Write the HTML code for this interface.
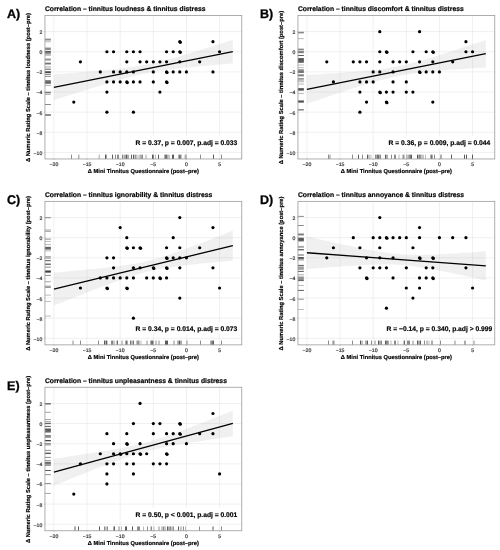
<!DOCTYPE html>
<html><head><meta charset="utf-8"><title>Correlation plots</title>
<style>
html,body{margin:0;padding:0;background:#fff;}
body{width:500px;height:550px;overflow:hidden;}
svg{display:block;font-family:'Liberation Sans', Arial, Helvetica, sans-serif;text-rendering:geometricPrecision;}
.tk{font-size:5.15px;fill:#4D4D4D;}
.tt{font-size:6.78px;font-weight:bold;fill:#000;}
.lb{font-size:12.5px;font-weight:bold;fill:#000;}
.yt{font-size:5.78px;font-weight:bold;fill:#000;}
.xt{font-size:5.75px;font-weight:bold;fill:#000;}
.rt{font-size:6.72px;font-weight:bold;fill:#000;}
.tk{fill:#333;stroke:#333;stroke-width:0.18px;}
.tt,.yt,.xt,.rt{stroke:#000;stroke-width:0.18px;}
.lb{stroke:#000;stroke-width:0.3px;}

</style></head><body>
<svg width="500" height="550" viewBox="0 0 500 550">
<rect width="500" height="550" fill="#fff"/>
<rect x="44.95" y="15.03" width="196.82" height="143.94" fill="#fff"/>
<line x1="53.9" y1="15.03" x2="53.9" y2="158.97" stroke="#E6E6E6" stroke-width="0.6"/>
<line x1="87.03" y1="15.03" x2="87.03" y2="158.97" stroke="#E6E6E6" stroke-width="0.6"/>
<line x1="120.17" y1="15.03" x2="120.17" y2="158.97" stroke="#E6E6E6" stroke-width="0.6"/>
<line x1="153.31" y1="15.03" x2="153.31" y2="158.97" stroke="#E6E6E6" stroke-width="0.6"/>
<line x1="186.44" y1="15.03" x2="186.44" y2="158.97" stroke="#E6E6E6" stroke-width="0.6"/>
<line x1="219.57" y1="15.03" x2="219.57" y2="158.97" stroke="#E6E6E6" stroke-width="0.6"/>
<line x1="44.95" y1="31.64" x2="241.78" y2="31.64" stroke="#E6E6E6" stroke-width="0.6"/>
<line x1="44.95" y1="51.77" x2="241.78" y2="51.77" stroke="#E6E6E6" stroke-width="0.6"/>
<line x1="44.95" y1="71.9" x2="241.78" y2="71.9" stroke="#E6E6E6" stroke-width="0.6"/>
<line x1="44.95" y1="92.03" x2="241.78" y2="92.03" stroke="#E6E6E6" stroke-width="0.6"/>
<line x1="44.95" y1="112.17" x2="241.78" y2="112.17" stroke="#E6E6E6" stroke-width="0.6"/>
<line x1="44.95" y1="132.3" x2="241.78" y2="132.3" stroke="#E6E6E6" stroke-width="0.6"/>
<line x1="44.95" y1="152.43" x2="241.78" y2="152.43" stroke="#E6E6E6" stroke-width="0.6"/>
<polygon points="53.9,74.46 58.37,74.11 62.85,73.76 67.32,73.4 71.79,73.04 76.27,72.68 80.74,72.31 85.21,71.93 89.69,71.54 94.16,71.14 98.63,70.74 103.11,70.31 107.58,69.88 112.05,69.42 116.53,68.93 121,68.42 125.47,67.87 129.94,67.27 134.42,66.62 138.89,65.91 143.36,65.13 147.84,64.27 152.31,63.34 156.78,62.33 161.26,61.26 165.73,60.12 170.2,58.93 174.68,57.69 179.15,56.42 183.62,55.12 188.1,53.8 192.57,52.45 197.04,51.09 201.52,49.72 205.99,48.33 210.46,46.94 214.94,45.53 219.41,44.12 223.88,42.7 228.36,41.28 232.83,39.86 232.83,63.48 228.36,63.84 223.88,64.2 219.41,64.56 214.94,64.93 210.46,65.31 205.99,65.7 201.52,66.09 197.04,66.5 192.57,66.92 188.1,67.36 183.62,67.81 179.15,68.29 174.68,68.81 170.2,69.35 165.73,69.95 161.26,70.59 156.78,71.29 152.31,72.07 147.84,72.92 143.36,73.84 138.89,74.84 134.42,75.91 129.94,77.05 125.47,78.23 121,79.46 116.53,80.73 112.05,82.03 107.58,83.35 103.11,84.69 98.63,86.05 94.16,87.43 89.69,88.81 85.21,90.21 80.74,91.61 76.27,93.02 71.79,94.44 67.32,95.86 62.85,97.28 58.37,98.71 53.9,100.15" fill="#999" fill-opacity="0.15"/>
<line x1="44.95" y1="39.1" x2="50.86" y2="39.1" stroke="#000" stroke-opacity="0.5" stroke-width="0.9"/>
<line x1="44.95" y1="40" x2="50.86" y2="40" stroke="#000" stroke-opacity="0.5" stroke-width="0.9"/>
<line x1="44.95" y1="41.8" x2="50.86" y2="41.8" stroke="#000" stroke-opacity="0.3" stroke-width="0.9"/>
<line x1="44.95" y1="48.2" x2="50.86" y2="48.2" stroke="#000" stroke-opacity="0.72" stroke-width="0.9"/>
<line x1="44.95" y1="49.5" x2="50.86" y2="49.5" stroke="#000" stroke-opacity="0.5" stroke-width="0.9"/>
<line x1="44.95" y1="51.4" x2="50.86" y2="51.4" stroke="#000" stroke-opacity="0.72" stroke-width="0.9"/>
<line x1="44.95" y1="52.3" x2="50.86" y2="52.3" stroke="#000" stroke-opacity="0.72" stroke-width="0.9"/>
<line x1="44.95" y1="53.6" x2="50.86" y2="53.6" stroke="#000" stroke-opacity="0.5" stroke-width="0.9"/>
<line x1="44.95" y1="55" x2="50.86" y2="55" stroke="#000" stroke-opacity="0.5" stroke-width="0.9"/>
<line x1="44.95" y1="59.1" x2="50.86" y2="59.1" stroke="#000" stroke-opacity="0.5" stroke-width="0.9"/>
<line x1="44.95" y1="60" x2="50.86" y2="60" stroke="#000" stroke-opacity="0.5" stroke-width="0.9"/>
<line x1="44.95" y1="63.2" x2="50.86" y2="63.2" stroke="#000" stroke-opacity="0.72" stroke-width="0.9"/>
<line x1="44.95" y1="64.1" x2="50.86" y2="64.1" stroke="#000" stroke-opacity="0.5" stroke-width="0.9"/>
<line x1="44.95" y1="66.8" x2="50.86" y2="66.8" stroke="#000" stroke-opacity="0.3" stroke-width="0.9"/>
<line x1="44.95" y1="68.2" x2="50.86" y2="68.2" stroke="#000" stroke-opacity="0.3" stroke-width="0.9"/>
<line x1="44.95" y1="69.5" x2="50.86" y2="69.5" stroke="#000" stroke-opacity="0.5" stroke-width="0.9"/>
<line x1="44.95" y1="71.8" x2="50.86" y2="71.8" stroke="#000" stroke-opacity="0.85" stroke-width="0.9"/>
<line x1="44.95" y1="72.7" x2="50.86" y2="72.7" stroke="#000" stroke-opacity="0.85" stroke-width="0.9"/>
<line x1="44.95" y1="74.5" x2="50.86" y2="74.5" stroke="#000" stroke-opacity="0.5" stroke-width="0.9"/>
<line x1="44.95" y1="76.4" x2="50.86" y2="76.4" stroke="#000" stroke-opacity="0.5" stroke-width="0.9"/>
<line x1="44.95" y1="80.8" x2="50.86" y2="80.8" stroke="#000" stroke-opacity="0.72" stroke-width="0.9"/>
<line x1="44.95" y1="81.8" x2="50.86" y2="81.8" stroke="#000" stroke-opacity="0.72" stroke-width="0.9"/>
<line x1="44.95" y1="82.7" x2="50.86" y2="82.7" stroke="#000" stroke-opacity="0.72" stroke-width="0.9"/>
<line x1="44.95" y1="83.6" x2="50.86" y2="83.6" stroke="#000" stroke-opacity="0.5" stroke-width="0.9"/>
<line x1="44.95" y1="85.5" x2="50.86" y2="85.5" stroke="#000" stroke-opacity="0.3" stroke-width="0.9"/>
<line x1="44.95" y1="92.3" x2="50.86" y2="92.3" stroke="#000" stroke-opacity="0.72" stroke-width="0.9"/>
<line x1="44.95" y1="94.1" x2="50.86" y2="94.1" stroke="#000" stroke-opacity="0.5" stroke-width="0.9"/>
<line x1="44.95" y1="104.5" x2="50.86" y2="104.5" stroke="#000" stroke-opacity="0.5" stroke-width="0.9"/>
<line x1="44.95" y1="114.5" x2="50.86" y2="114.5" stroke="#000" stroke-opacity="0.5" stroke-width="0.9"/>
<line x1="44.95" y1="115.5" x2="50.86" y2="115.5" stroke="#000" stroke-opacity="0.5" stroke-width="0.9"/>
<line x1="71.5" y1="158.97" x2="71.5" y2="154.65" stroke="#000" stroke-opacity="0.5" stroke-width="0.9"/>
<line x1="78.8" y1="158.97" x2="78.8" y2="154.65" stroke="#000" stroke-opacity="0.5" stroke-width="0.9"/>
<line x1="99.2" y1="158.97" x2="99.2" y2="154.65" stroke="#000" stroke-opacity="0.4" stroke-width="0.9"/>
<line x1="105.5" y1="158.97" x2="105.5" y2="154.65" stroke="#000" stroke-opacity="0.72" stroke-width="0.9"/>
<line x1="106.3" y1="158.97" x2="106.3" y2="154.65" stroke="#000" stroke-opacity="0.5" stroke-width="0.9"/>
<line x1="112.5" y1="158.97" x2="112.5" y2="154.65" stroke="#000" stroke-opacity="0.72" stroke-width="0.9"/>
<line x1="115.5" y1="158.97" x2="115.5" y2="154.65" stroke="#000" stroke-opacity="0.5" stroke-width="0.9"/>
<line x1="117.5" y1="158.97" x2="117.5" y2="154.65" stroke="#000" stroke-opacity="0.5" stroke-width="0.9"/>
<line x1="118.5" y1="158.97" x2="118.5" y2="154.65" stroke="#000" stroke-opacity="0.5" stroke-width="0.9"/>
<line x1="122.5" y1="158.97" x2="122.5" y2="154.65" stroke="#000" stroke-opacity="0.5" stroke-width="0.9"/>
<line x1="123.2" y1="158.97" x2="123.2" y2="154.65" stroke="#000" stroke-opacity="0.3" stroke-width="0.9"/>
<line x1="125" y1="158.97" x2="125" y2="154.65" stroke="#000" stroke-opacity="0.72" stroke-width="0.9"/>
<line x1="126.5" y1="158.97" x2="126.5" y2="154.65" stroke="#000" stroke-opacity="0.72" stroke-width="0.9"/>
<line x1="128" y1="158.97" x2="128" y2="154.65" stroke="#000" stroke-opacity="0.72" stroke-width="0.9"/>
<line x1="131.5" y1="158.97" x2="131.5" y2="154.65" stroke="#000" stroke-opacity="0.72" stroke-width="0.9"/>
<line x1="133.5" y1="158.97" x2="133.5" y2="154.65" stroke="#000" stroke-opacity="0.72" stroke-width="0.9"/>
<line x1="135" y1="158.97" x2="135" y2="154.65" stroke="#000" stroke-opacity="0.5" stroke-width="0.9"/>
<line x1="136" y1="158.97" x2="136" y2="154.65" stroke="#000" stroke-opacity="0.5" stroke-width="0.9"/>
<line x1="138" y1="158.97" x2="138" y2="154.65" stroke="#000" stroke-opacity="0.3" stroke-width="0.9"/>
<line x1="140" y1="158.97" x2="140" y2="154.65" stroke="#000" stroke-opacity="0.5" stroke-width="0.9"/>
<line x1="141.3" y1="158.97" x2="141.3" y2="154.65" stroke="#000" stroke-opacity="0.5" stroke-width="0.9"/>
<line x1="142.5" y1="158.97" x2="142.5" y2="154.65" stroke="#000" stroke-opacity="0.5" stroke-width="0.9"/>
<line x1="146" y1="158.97" x2="146" y2="154.65" stroke="#000" stroke-opacity="0.4" stroke-width="0.9"/>
<line x1="152.5" y1="158.97" x2="152.5" y2="154.65" stroke="#000" stroke-opacity="0.72" stroke-width="0.9"/>
<line x1="153.5" y1="158.97" x2="153.5" y2="154.65" stroke="#000" stroke-opacity="0.5" stroke-width="0.9"/>
<line x1="155.5" y1="158.97" x2="155.5" y2="154.65" stroke="#000" stroke-opacity="0.3" stroke-width="0.9"/>
<line x1="158.5" y1="158.97" x2="158.5" y2="154.65" stroke="#000" stroke-opacity="0.72" stroke-width="0.9"/>
<line x1="165" y1="158.97" x2="165" y2="154.65" stroke="#000" stroke-opacity="0.72" stroke-width="0.9"/>
<line x1="166" y1="158.97" x2="166" y2="154.65" stroke="#000" stroke-opacity="0.72" stroke-width="0.9"/>
<line x1="167" y1="158.97" x2="167" y2="154.65" stroke="#000" stroke-opacity="0.72" stroke-width="0.9"/>
<line x1="169" y1="158.97" x2="169" y2="154.65" stroke="#000" stroke-opacity="0.5" stroke-width="0.9"/>
<line x1="172.5" y1="158.97" x2="172.5" y2="154.65" stroke="#000" stroke-opacity="0.72" stroke-width="0.9"/>
<line x1="173.5" y1="158.97" x2="173.5" y2="154.65" stroke="#000" stroke-opacity="0.72" stroke-width="0.9"/>
<line x1="179" y1="158.97" x2="179" y2="154.65" stroke="#000" stroke-opacity="0.72" stroke-width="0.9"/>
<line x1="180" y1="158.97" x2="180" y2="154.65" stroke="#000" stroke-opacity="0.72" stroke-width="0.9"/>
<line x1="181" y1="158.97" x2="181" y2="154.65" stroke="#000" stroke-opacity="0.5" stroke-width="0.9"/>
<line x1="185" y1="158.97" x2="185" y2="154.65" stroke="#000" stroke-opacity="0.3" stroke-width="0.9"/>
<line x1="186" y1="158.97" x2="186" y2="154.65" stroke="#000" stroke-opacity="0.5" stroke-width="0.9"/>
<line x1="200.5" y1="158.97" x2="200.5" y2="154.65" stroke="#000" stroke-opacity="0.5" stroke-width="0.9"/>
<line x1="213.5" y1="158.97" x2="213.5" y2="154.65" stroke="#000" stroke-opacity="0.72" stroke-width="0.9"/>
<line x1="221.5" y1="158.97" x2="221.5" y2="154.65" stroke="#000" stroke-opacity="0.5" stroke-width="0.9"/>
<line x1="53.9" y1="87.3" x2="232.83" y2="51.67" stroke="#000" stroke-width="1.3"/>
<circle cx="80.41" cy="61.84" r="1.6" fill="#000"/>
<circle cx="106.92" cy="51.77" r="1.6" fill="#000"/>
<circle cx="113.54" cy="51.77" r="1.6" fill="#000"/>
<circle cx="126.8" cy="51.77" r="1.6" fill="#000"/>
<circle cx="133.42" cy="51.77" r="1.6" fill="#000"/>
<circle cx="140.05" cy="51.77" r="1.6" fill="#000"/>
<circle cx="126.8" cy="61.84" r="1.6" fill="#000"/>
<circle cx="140.05" cy="61.84" r="1.6" fill="#000"/>
<circle cx="100.29" cy="71.9" r="1.6" fill="#000"/>
<circle cx="113.54" cy="71.9" r="1.6" fill="#000"/>
<circle cx="120.17" cy="71.9" r="1.6" fill="#000"/>
<circle cx="126.8" cy="71.9" r="1.6" fill="#000"/>
<circle cx="133.42" cy="71.9" r="1.6" fill="#000"/>
<circle cx="106.92" cy="81.97" r="1.6" fill="#000"/>
<circle cx="113.54" cy="81.97" r="1.6" fill="#000"/>
<circle cx="120.17" cy="81.97" r="1.6" fill="#000"/>
<circle cx="126.8" cy="81.97" r="1.6" fill="#000"/>
<circle cx="127.3" cy="82.57" r="1.6" fill="#000"/>
<circle cx="133.42" cy="81.97" r="1.6" fill="#000"/>
<circle cx="140.05" cy="81.97" r="1.6" fill="#000"/>
<circle cx="106.92" cy="92.03" r="1.6" fill="#000"/>
<circle cx="146.68" cy="61.84" r="1.6" fill="#000"/>
<circle cx="153.31" cy="61.84" r="1.6" fill="#000"/>
<circle cx="159.93" cy="61.84" r="1.6" fill="#000"/>
<circle cx="166.56" cy="61.84" r="1.6" fill="#000"/>
<circle cx="179.81" cy="61.84" r="1.6" fill="#000"/>
<circle cx="199.69" cy="61.84" r="1.6" fill="#000"/>
<circle cx="166.56" cy="51.77" r="1.6" fill="#000"/>
<circle cx="173.19" cy="51.77" r="1.6" fill="#000"/>
<circle cx="179.81" cy="51.77" r="1.6" fill="#000"/>
<circle cx="180.31" cy="52.37" r="1.6" fill="#000"/>
<circle cx="179.81" cy="41.7" r="1.6" fill="#000"/>
<circle cx="180.31" cy="42.3" r="1.6" fill="#000"/>
<circle cx="212.95" cy="41.7" r="1.6" fill="#000"/>
<circle cx="219.57" cy="51.77" r="1.6" fill="#000"/>
<circle cx="153.31" cy="71.9" r="1.6" fill="#000"/>
<circle cx="166.56" cy="71.9" r="1.6" fill="#000"/>
<circle cx="167.06" cy="72.5" r="1.6" fill="#000"/>
<circle cx="173.19" cy="71.9" r="1.6" fill="#000"/>
<circle cx="179.81" cy="71.9" r="1.6" fill="#000"/>
<circle cx="186.44" cy="71.9" r="1.6" fill="#000"/>
<circle cx="212.95" cy="71.9" r="1.6" fill="#000"/>
<circle cx="153.31" cy="81.97" r="1.6" fill="#000"/>
<circle cx="166.56" cy="81.97" r="1.6" fill="#000"/>
<circle cx="167.06" cy="82.57" r="1.6" fill="#000"/>
<circle cx="159.93" cy="92.03" r="1.6" fill="#000"/>
<circle cx="73.78" cy="102.1" r="1.6" fill="#000"/>
<circle cx="106.92" cy="112.17" r="1.6" fill="#000"/>
<circle cx="133.42" cy="112.17" r="1.6" fill="#000"/>
<rect x="44.95" y="15.45" width="196.82" height="143.52" fill="none" stroke="#9A9A9A" stroke-width="0.8"/>
<line x1="53.9" y1="158.97" x2="53.9" y2="160.07" stroke="#A8A8A8" stroke-width="0.6"/>
<text x="53.9" y="166" text-anchor="middle" class="tk">−20</text>
<line x1="87.03" y1="158.97" x2="87.03" y2="160.07" stroke="#A8A8A8" stroke-width="0.6"/>
<text x="87.03" y="166" text-anchor="middle" class="tk">−15</text>
<line x1="120.17" y1="158.97" x2="120.17" y2="160.07" stroke="#A8A8A8" stroke-width="0.6"/>
<text x="120.17" y="166" text-anchor="middle" class="tk">−10</text>
<line x1="153.31" y1="158.97" x2="153.31" y2="160.07" stroke="#A8A8A8" stroke-width="0.6"/>
<text x="153.31" y="166" text-anchor="middle" class="tk">−5</text>
<line x1="186.44" y1="158.97" x2="186.44" y2="160.07" stroke="#A8A8A8" stroke-width="0.6"/>
<text x="186.44" y="166" text-anchor="middle" class="tk">0</text>
<line x1="219.57" y1="158.97" x2="219.57" y2="160.07" stroke="#A8A8A8" stroke-width="0.6"/>
<text x="219.57" y="166" text-anchor="middle" class="tk">5</text>
<line x1="43.85" y1="31.64" x2="44.95" y2="31.64" stroke="#A8A8A8" stroke-width="0.6"/>
<text x="42.3" y="34.09" text-anchor="end" class="tk">2</text>
<line x1="43.85" y1="51.77" x2="44.95" y2="51.77" stroke="#A8A8A8" stroke-width="0.6"/>
<text x="42.3" y="54.22" text-anchor="end" class="tk">0</text>
<line x1="43.85" y1="71.9" x2="44.95" y2="71.9" stroke="#A8A8A8" stroke-width="0.6"/>
<text x="42.3" y="74.36" text-anchor="end" class="tk">−2</text>
<line x1="43.85" y1="92.03" x2="44.95" y2="92.03" stroke="#A8A8A8" stroke-width="0.6"/>
<text x="42.3" y="94.49" text-anchor="end" class="tk">−4</text>
<line x1="43.85" y1="112.17" x2="44.95" y2="112.17" stroke="#A8A8A8" stroke-width="0.6"/>
<text x="42.3" y="114.62" text-anchor="end" class="tk">−6</text>
<line x1="43.85" y1="132.3" x2="44.95" y2="132.3" stroke="#A8A8A8" stroke-width="0.6"/>
<text x="42.3" y="134.75" text-anchor="end" class="tk">−8</text>
<line x1="43.85" y1="152.43" x2="44.95" y2="152.43" stroke="#A8A8A8" stroke-width="0.6"/>
<text x="42.3" y="154.88" text-anchor="end" class="tk">−10</text>
<text x="44.95" y="11.3" class="tt">Correlation – tinnitus loudness &amp; tinnitus distress</text>
<text x="7.1" y="18" class="lb">A)</text>
<text transform="translate(29.9,87.6) rotate(-90)" text-anchor="middle" class="yt">Δ Numeric Rating Scale – tinnitus loudness (post–pre)</text>
<text x="143.36" y="172.8" text-anchor="middle" class="xt">Δ Mini Tinnitus Questionnaire (post–pre)</text>
<rect x="133.94" y="136.16" width="104.99" height="12.6" fill="#fff"/>
<text x="186.44" y="144.81" text-anchor="middle" class="rt">R = 0.37, p = 0.007, p.adj = 0.033</text>
<rect x="297.95" y="15.03" width="196.82" height="143.94" fill="#fff"/>
<line x1="306.9" y1="15.03" x2="306.9" y2="158.97" stroke="#E6E6E6" stroke-width="0.6"/>
<line x1="340.03" y1="15.03" x2="340.03" y2="158.97" stroke="#E6E6E6" stroke-width="0.6"/>
<line x1="373.17" y1="15.03" x2="373.17" y2="158.97" stroke="#E6E6E6" stroke-width="0.6"/>
<line x1="406.3" y1="15.03" x2="406.3" y2="158.97" stroke="#E6E6E6" stroke-width="0.6"/>
<line x1="439.44" y1="15.03" x2="439.44" y2="158.97" stroke="#E6E6E6" stroke-width="0.6"/>
<line x1="472.57" y1="15.03" x2="472.57" y2="158.97" stroke="#E6E6E6" stroke-width="0.6"/>
<line x1="297.95" y1="31.64" x2="494.78" y2="31.64" stroke="#E6E6E6" stroke-width="0.6"/>
<line x1="297.95" y1="51.77" x2="494.78" y2="51.77" stroke="#E6E6E6" stroke-width="0.6"/>
<line x1="297.95" y1="71.9" x2="494.78" y2="71.9" stroke="#E6E6E6" stroke-width="0.6"/>
<line x1="297.95" y1="92.03" x2="494.78" y2="92.03" stroke="#E6E6E6" stroke-width="0.6"/>
<line x1="297.95" y1="112.17" x2="494.78" y2="112.17" stroke="#E6E6E6" stroke-width="0.6"/>
<line x1="297.95" y1="132.3" x2="494.78" y2="132.3" stroke="#E6E6E6" stroke-width="0.6"/>
<line x1="297.95" y1="152.43" x2="494.78" y2="152.43" stroke="#E6E6E6" stroke-width="0.6"/>
<polygon points="306.9,74.99 311.37,74.72 315.85,74.44 320.32,74.16 324.79,73.87 329.27,73.58 333.74,73.28 338.21,72.97 342.69,72.65 347.16,72.32 351.63,71.97 356.11,71.61 360.58,71.23 365.05,70.82 369.53,70.38 374,69.9 378.47,69.38 382.94,68.79 387.42,68.15 391.89,67.42 396.36,66.61 400.84,65.72 405.31,64.73 409.78,63.67 414.26,62.52 418.73,61.32 423.2,60.05 427.68,58.75 432.15,57.4 436.62,56.02 441.1,54.62 445.57,53.2 450.04,51.76 454.52,50.31 458.99,48.84 463.46,47.37 467.94,45.89 472.41,44.4 476.88,42.9 481.36,41.4 485.83,39.9 485.83,67.47 481.36,67.74 476.88,68.03 472.41,68.31 467.94,68.6 463.46,68.9 458.99,69.21 454.52,69.53 450.04,69.86 445.57,70.2 441.1,70.56 436.62,70.94 432.15,71.35 427.68,71.78 423.2,72.26 418.73,72.77 414.26,73.35 409.78,73.99 405.31,74.7 400.84,75.5 396.36,76.38 391.89,77.36 387.42,78.42 382.94,79.55 378.47,80.75 374,82.01 369.53,83.31 365.05,84.65 360.58,86.02 356.11,87.42 351.63,88.84 347.16,90.28 342.69,91.73 338.21,93.19 333.74,94.66 329.27,96.15 324.79,97.64 320.32,99.13 315.85,100.63 311.37,102.13 306.9,103.64" fill="#999" fill-opacity="0.15"/>
<line x1="297.95" y1="32.3" x2="303.86" y2="32.3" stroke="#000" stroke-opacity="0.6" stroke-width="0.9"/>
<line x1="297.95" y1="33.2" x2="303.86" y2="33.2" stroke="#000" stroke-opacity="0.3" stroke-width="0.9"/>
<line x1="297.95" y1="38.6" x2="303.86" y2="38.6" stroke="#000" stroke-opacity="0.3" stroke-width="0.9"/>
<line x1="297.95" y1="49.1" x2="303.86" y2="49.1" stroke="#000" stroke-opacity="0.5" stroke-width="0.9"/>
<line x1="297.95" y1="49.9" x2="303.86" y2="49.9" stroke="#000" stroke-opacity="0.5" stroke-width="0.9"/>
<line x1="297.95" y1="51.8" x2="303.86" y2="51.8" stroke="#000" stroke-opacity="0.72" stroke-width="0.9"/>
<line x1="297.95" y1="52.7" x2="303.86" y2="52.7" stroke="#000" stroke-opacity="0.5" stroke-width="0.9"/>
<line x1="297.95" y1="55.5" x2="303.86" y2="55.5" stroke="#000" stroke-opacity="0.72" stroke-width="0.9"/>
<line x1="297.95" y1="58.6" x2="303.86" y2="58.6" stroke="#000" stroke-opacity="0.72" stroke-width="0.9"/>
<line x1="297.95" y1="59.52" x2="303.86" y2="59.52" stroke="#000" stroke-opacity="0.72" stroke-width="0.9"/>
<line x1="297.95" y1="60.45" x2="303.86" y2="60.45" stroke="#000" stroke-opacity="0.72" stroke-width="0.9"/>
<line x1="297.95" y1="61.38" x2="303.86" y2="61.38" stroke="#000" stroke-opacity="0.72" stroke-width="0.9"/>
<line x1="297.95" y1="62.3" x2="303.86" y2="62.3" stroke="#000" stroke-opacity="0.72" stroke-width="0.9"/>
<line x1="297.95" y1="65" x2="303.86" y2="65" stroke="#000" stroke-opacity="0.3" stroke-width="0.9"/>
<line x1="297.95" y1="67.7" x2="303.86" y2="67.7" stroke="#000" stroke-opacity="0.3" stroke-width="0.9"/>
<line x1="297.95" y1="70" x2="303.86" y2="70" stroke="#000" stroke-opacity="0.72" stroke-width="0.9"/>
<line x1="297.95" y1="71.2" x2="303.86" y2="71.2" stroke="#000" stroke-opacity="0.72" stroke-width="0.9"/>
<line x1="297.95" y1="72.3" x2="303.86" y2="72.3" stroke="#000" stroke-opacity="0.72" stroke-width="0.9"/>
<line x1="297.95" y1="75" x2="303.86" y2="75" stroke="#000" stroke-opacity="0.72" stroke-width="0.9"/>
<line x1="297.95" y1="75.9" x2="303.86" y2="75.9" stroke="#000" stroke-opacity="0.5" stroke-width="0.9"/>
<line x1="297.95" y1="78.6" x2="303.86" y2="78.6" stroke="#000" stroke-opacity="0.5" stroke-width="0.9"/>
<line x1="297.95" y1="79.5" x2="303.86" y2="79.5" stroke="#000" stroke-opacity="0.3" stroke-width="0.9"/>
<line x1="297.95" y1="80.7" x2="303.86" y2="80.7" stroke="#000" stroke-opacity="0.3" stroke-width="0.9"/>
<line x1="297.95" y1="81.8" x2="303.86" y2="81.8" stroke="#000" stroke-opacity="0.3" stroke-width="0.9"/>
<line x1="297.95" y1="84.1" x2="303.86" y2="84.1" stroke="#000" stroke-opacity="0.3" stroke-width="0.9"/>
<line x1="297.95" y1="88.6" x2="303.86" y2="88.6" stroke="#000" stroke-opacity="0.72" stroke-width="0.9"/>
<line x1="297.95" y1="89.5" x2="303.86" y2="89.5" stroke="#000" stroke-opacity="0.72" stroke-width="0.9"/>
<line x1="297.95" y1="90.5" x2="303.86" y2="90.5" stroke="#000" stroke-opacity="0.5" stroke-width="0.9"/>
<line x1="297.95" y1="93.6" x2="303.86" y2="93.6" stroke="#000" stroke-opacity="0.3" stroke-width="0.9"/>
<line x1="297.95" y1="100.9" x2="303.86" y2="100.9" stroke="#000" stroke-opacity="0.72" stroke-width="0.9"/>
<line x1="297.95" y1="101.7" x2="303.86" y2="101.7" stroke="#000" stroke-opacity="0.72" stroke-width="0.9"/>
<line x1="297.95" y1="102.3" x2="303.86" y2="102.3" stroke="#000" stroke-opacity="0.5" stroke-width="0.9"/>
<line x1="297.95" y1="109.5" x2="303.86" y2="109.5" stroke="#000" stroke-opacity="0.5" stroke-width="0.9"/>
<line x1="297.95" y1="110.5" x2="303.86" y2="110.5" stroke="#000" stroke-opacity="0.3" stroke-width="0.9"/>
<line x1="328.5" y1="158.97" x2="328.5" y2="154.65" stroke="#000" stroke-opacity="0.5" stroke-width="0.9"/>
<line x1="330" y1="158.97" x2="330" y2="154.65" stroke="#000" stroke-opacity="0.5" stroke-width="0.9"/>
<line x1="352.5" y1="158.97" x2="352.5" y2="154.65" stroke="#000" stroke-opacity="0.5" stroke-width="0.9"/>
<line x1="358.5" y1="158.97" x2="358.5" y2="154.65" stroke="#000" stroke-opacity="0.72" stroke-width="0.9"/>
<line x1="362.5" y1="158.97" x2="362.5" y2="154.65" stroke="#000" stroke-opacity="0.5" stroke-width="0.9"/>
<line x1="367.5" y1="158.97" x2="367.5" y2="154.65" stroke="#000" stroke-opacity="0.72" stroke-width="0.9"/>
<line x1="369" y1="158.97" x2="369" y2="154.65" stroke="#000" stroke-opacity="0.5" stroke-width="0.9"/>
<line x1="371" y1="158.97" x2="371" y2="154.65" stroke="#000" stroke-opacity="0.3" stroke-width="0.9"/>
<line x1="375.5" y1="158.97" x2="375.5" y2="154.65" stroke="#000" stroke-opacity="0.5" stroke-width="0.9"/>
<line x1="377" y1="158.97" x2="377" y2="154.65" stroke="#000" stroke-opacity="0.72" stroke-width="0.9"/>
<line x1="378" y1="158.97" x2="378" y2="154.65" stroke="#000" stroke-opacity="0.72" stroke-width="0.9"/>
<line x1="379" y1="158.97" x2="379" y2="154.65" stroke="#000" stroke-opacity="0.72" stroke-width="0.9"/>
<line x1="380.5" y1="158.97" x2="380.5" y2="154.65" stroke="#000" stroke-opacity="0.5" stroke-width="0.9"/>
<line x1="385.5" y1="158.97" x2="385.5" y2="154.65" stroke="#000" stroke-opacity="0.72" stroke-width="0.9"/>
<line x1="387" y1="158.97" x2="387" y2="154.65" stroke="#000" stroke-opacity="0.72" stroke-width="0.9"/>
<line x1="391.5" y1="158.97" x2="391.5" y2="154.65" stroke="#000" stroke-opacity="0.5" stroke-width="0.9"/>
<line x1="394.5" y1="158.97" x2="394.5" y2="154.65" stroke="#000" stroke-opacity="0.5" stroke-width="0.9"/>
<line x1="395.5" y1="158.97" x2="395.5" y2="154.65" stroke="#000" stroke-opacity="0.5" stroke-width="0.9"/>
<line x1="399" y1="158.97" x2="399" y2="154.65" stroke="#000" stroke-opacity="0.3" stroke-width="0.9"/>
<line x1="403" y1="158.97" x2="403" y2="154.65" stroke="#000" stroke-opacity="0.5" stroke-width="0.9"/>
<line x1="404" y1="158.97" x2="404" y2="154.65" stroke="#000" stroke-opacity="0.5" stroke-width="0.9"/>
<line x1="407" y1="158.97" x2="407" y2="154.65" stroke="#000" stroke-opacity="0.5" stroke-width="0.9"/>
<line x1="409" y1="158.97" x2="409" y2="154.65" stroke="#000" stroke-opacity="0.72" stroke-width="0.9"/>
<line x1="410.3" y1="158.97" x2="410.3" y2="154.65" stroke="#000" stroke-opacity="0.72" stroke-width="0.9"/>
<line x1="411.5" y1="158.97" x2="411.5" y2="154.65" stroke="#000" stroke-opacity="0.72" stroke-width="0.9"/>
<line x1="417.5" y1="158.97" x2="417.5" y2="154.65" stroke="#000" stroke-opacity="0.72" stroke-width="0.9"/>
<line x1="419" y1="158.97" x2="419" y2="154.65" stroke="#000" stroke-opacity="0.72" stroke-width="0.9"/>
<line x1="420" y1="158.97" x2="420" y2="154.65" stroke="#000" stroke-opacity="0.5" stroke-width="0.9"/>
<line x1="421" y1="158.97" x2="421" y2="154.65" stroke="#000" stroke-opacity="0.5" stroke-width="0.9"/>
<line x1="423" y1="158.97" x2="423" y2="154.65" stroke="#000" stroke-opacity="0.5" stroke-width="0.9"/>
<line x1="425.5" y1="158.97" x2="425.5" y2="154.65" stroke="#000" stroke-opacity="0.3" stroke-width="0.9"/>
<line x1="431" y1="158.97" x2="431" y2="154.65" stroke="#000" stroke-opacity="0.72" stroke-width="0.9"/>
<line x1="432" y1="158.97" x2="432" y2="154.65" stroke="#000" stroke-opacity="0.72" stroke-width="0.9"/>
<line x1="434.5" y1="158.97" x2="434.5" y2="154.65" stroke="#000" stroke-opacity="0.5" stroke-width="0.9"/>
<line x1="441" y1="158.97" x2="441" y2="154.65" stroke="#000" stroke-opacity="0.72" stroke-width="0.9"/>
<line x1="451.5" y1="158.97" x2="451.5" y2="154.65" stroke="#000" stroke-opacity="0.72" stroke-width="0.9"/>
<line x1="464.5" y1="158.97" x2="464.5" y2="154.65" stroke="#000" stroke-opacity="0.72" stroke-width="0.9"/>
<line x1="466.5" y1="158.97" x2="466.5" y2="154.65" stroke="#000" stroke-opacity="0.72" stroke-width="0.9"/>
<line x1="472.5" y1="158.97" x2="472.5" y2="154.65" stroke="#000" stroke-opacity="0.72" stroke-width="0.9"/>
<line x1="306.9" y1="89.32" x2="485.83" y2="53.68" stroke="#000" stroke-width="1.3"/>
<circle cx="379.8" cy="31.64" r="1.6" fill="#000"/>
<circle cx="379.8" cy="51.77" r="1.6" fill="#000"/>
<circle cx="386.42" cy="51.77" r="1.6" fill="#000"/>
<circle cx="386.92" cy="52.37" r="1.6" fill="#000"/>
<circle cx="326.78" cy="61.84" r="1.6" fill="#000"/>
<circle cx="353.29" cy="61.84" r="1.6" fill="#000"/>
<circle cx="359.92" cy="61.84" r="1.6" fill="#000"/>
<circle cx="366.54" cy="61.84" r="1.6" fill="#000"/>
<circle cx="379.8" cy="61.84" r="1.6" fill="#000"/>
<circle cx="393.05" cy="61.84" r="1.6" fill="#000"/>
<circle cx="373.17" cy="71.9" r="1.6" fill="#000"/>
<circle cx="379.8" cy="71.9" r="1.6" fill="#000"/>
<circle cx="393.05" cy="71.9" r="1.6" fill="#000"/>
<circle cx="333.41" cy="81.97" r="1.6" fill="#000"/>
<circle cx="359.92" cy="81.97" r="1.6" fill="#000"/>
<circle cx="366.54" cy="81.97" r="1.6" fill="#000"/>
<circle cx="373.17" cy="81.97" r="1.6" fill="#000"/>
<circle cx="393.05" cy="81.97" r="1.6" fill="#000"/>
<circle cx="359.92" cy="92.03" r="1.6" fill="#000"/>
<circle cx="379.8" cy="92.03" r="1.6" fill="#000"/>
<circle cx="380.3" cy="92.63" r="1.6" fill="#000"/>
<circle cx="386.42" cy="92.03" r="1.6" fill="#000"/>
<circle cx="393.05" cy="92.03" r="1.6" fill="#000"/>
<circle cx="419.56" cy="31.64" r="1.6" fill="#000"/>
<circle cx="412.93" cy="51.77" r="1.6" fill="#000"/>
<circle cx="426.19" cy="51.77" r="1.6" fill="#000"/>
<circle cx="432.81" cy="51.77" r="1.6" fill="#000"/>
<circle cx="433.31" cy="52.37" r="1.6" fill="#000"/>
<circle cx="465.95" cy="41.7" r="1.6" fill="#000"/>
<circle cx="465.95" cy="51.77" r="1.6" fill="#000"/>
<circle cx="472.57" cy="51.77" r="1.6" fill="#000"/>
<circle cx="399.68" cy="61.84" r="1.6" fill="#000"/>
<circle cx="406.3" cy="61.84" r="1.6" fill="#000"/>
<circle cx="419.56" cy="61.84" r="1.6" fill="#000"/>
<circle cx="432.81" cy="61.84" r="1.6" fill="#000"/>
<circle cx="452.69" cy="61.84" r="1.6" fill="#000"/>
<circle cx="419.56" cy="71.9" r="1.6" fill="#000"/>
<circle cx="420.06" cy="72.5" r="1.6" fill="#000"/>
<circle cx="426.19" cy="71.9" r="1.6" fill="#000"/>
<circle cx="432.81" cy="71.9" r="1.6" fill="#000"/>
<circle cx="439.44" cy="71.9" r="1.6" fill="#000"/>
<circle cx="406.3" cy="81.97" r="1.6" fill="#000"/>
<circle cx="406.3" cy="92.03" r="1.6" fill="#000"/>
<circle cx="412.93" cy="92.03" r="1.6" fill="#000"/>
<circle cx="366.54" cy="102.1" r="1.6" fill="#000"/>
<circle cx="386.42" cy="102.1" r="1.6" fill="#000"/>
<circle cx="386.92" cy="102.7" r="1.6" fill="#000"/>
<circle cx="359.92" cy="112.17" r="1.6" fill="#000"/>
<circle cx="432.81" cy="102.1" r="1.6" fill="#000"/>
<rect x="297.95" y="15.45" width="196.82" height="143.52" fill="none" stroke="#9A9A9A" stroke-width="0.8"/>
<line x1="306.9" y1="158.97" x2="306.9" y2="160.07" stroke="#A8A8A8" stroke-width="0.6"/>
<text x="306.9" y="166" text-anchor="middle" class="tk">−20</text>
<line x1="340.03" y1="158.97" x2="340.03" y2="160.07" stroke="#A8A8A8" stroke-width="0.6"/>
<text x="340.03" y="166" text-anchor="middle" class="tk">−15</text>
<line x1="373.17" y1="158.97" x2="373.17" y2="160.07" stroke="#A8A8A8" stroke-width="0.6"/>
<text x="373.17" y="166" text-anchor="middle" class="tk">−10</text>
<line x1="406.3" y1="158.97" x2="406.3" y2="160.07" stroke="#A8A8A8" stroke-width="0.6"/>
<text x="406.3" y="166" text-anchor="middle" class="tk">−5</text>
<line x1="439.44" y1="158.97" x2="439.44" y2="160.07" stroke="#A8A8A8" stroke-width="0.6"/>
<text x="439.44" y="166" text-anchor="middle" class="tk">0</text>
<line x1="472.57" y1="158.97" x2="472.57" y2="160.07" stroke="#A8A8A8" stroke-width="0.6"/>
<text x="472.57" y="166" text-anchor="middle" class="tk">5</text>
<line x1="296.85" y1="31.64" x2="297.95" y2="31.64" stroke="#A8A8A8" stroke-width="0.6"/>
<text x="295.3" y="34.09" text-anchor="end" class="tk">2</text>
<line x1="296.85" y1="51.77" x2="297.95" y2="51.77" stroke="#A8A8A8" stroke-width="0.6"/>
<text x="295.3" y="54.22" text-anchor="end" class="tk">0</text>
<line x1="296.85" y1="71.9" x2="297.95" y2="71.9" stroke="#A8A8A8" stroke-width="0.6"/>
<text x="295.3" y="74.36" text-anchor="end" class="tk">−2</text>
<line x1="296.85" y1="92.03" x2="297.95" y2="92.03" stroke="#A8A8A8" stroke-width="0.6"/>
<text x="295.3" y="94.49" text-anchor="end" class="tk">−4</text>
<line x1="296.85" y1="112.17" x2="297.95" y2="112.17" stroke="#A8A8A8" stroke-width="0.6"/>
<text x="295.3" y="114.62" text-anchor="end" class="tk">−6</text>
<line x1="296.85" y1="132.3" x2="297.95" y2="132.3" stroke="#A8A8A8" stroke-width="0.6"/>
<text x="295.3" y="134.75" text-anchor="end" class="tk">−8</text>
<line x1="296.85" y1="152.43" x2="297.95" y2="152.43" stroke="#A8A8A8" stroke-width="0.6"/>
<text x="295.3" y="154.88" text-anchor="end" class="tk">−10</text>
<text x="297.95" y="11.3" class="tt">Correlation – tinnitus discomfort &amp; tinnitus distress</text>
<text x="260.1" y="18" class="lb">B)</text>
<text transform="translate(282.9,87.6) rotate(-90)" text-anchor="middle" class="yt">Δ Numeric Rating Scale – tinnitus discomfort (post–pre)</text>
<text x="396.36" y="172.8" text-anchor="middle" class="xt">Δ Mini Tinnitus Questionnaire (post–pre)</text>
<rect x="386.94" y="136.16" width="104.99" height="12.6" fill="#fff"/>
<text x="439.44" y="144.81" text-anchor="middle" class="rt">R = 0.36, p = 0.009, p.adj = 0.044</text>
<rect x="44.95" y="200.93" width="196.82" height="143.94" fill="#fff"/>
<line x1="53.9" y1="200.93" x2="53.9" y2="344.87" stroke="#E6E6E6" stroke-width="0.6"/>
<line x1="87.03" y1="200.93" x2="87.03" y2="344.87" stroke="#E6E6E6" stroke-width="0.6"/>
<line x1="120.17" y1="200.93" x2="120.17" y2="344.87" stroke="#E6E6E6" stroke-width="0.6"/>
<line x1="153.31" y1="200.93" x2="153.31" y2="344.87" stroke="#E6E6E6" stroke-width="0.6"/>
<line x1="186.44" y1="200.93" x2="186.44" y2="344.87" stroke="#E6E6E6" stroke-width="0.6"/>
<line x1="219.57" y1="200.93" x2="219.57" y2="344.87" stroke="#E6E6E6" stroke-width="0.6"/>
<line x1="44.95" y1="217.54" x2="241.78" y2="217.54" stroke="#E6E6E6" stroke-width="0.6"/>
<line x1="44.95" y1="237.67" x2="241.78" y2="237.67" stroke="#E6E6E6" stroke-width="0.6"/>
<line x1="44.95" y1="257.8" x2="241.78" y2="257.8" stroke="#E6E6E6" stroke-width="0.6"/>
<line x1="44.95" y1="277.93" x2="241.78" y2="277.93" stroke="#E6E6E6" stroke-width="0.6"/>
<line x1="44.95" y1="298.07" x2="241.78" y2="298.07" stroke="#E6E6E6" stroke-width="0.6"/>
<line x1="44.95" y1="318.2" x2="241.78" y2="318.2" stroke="#E6E6E6" stroke-width="0.6"/>
<line x1="44.95" y1="338.33" x2="241.78" y2="338.33" stroke="#E6E6E6" stroke-width="0.6"/>
<polygon points="53.9,272.59 58.37,272.21 62.85,271.82 67.32,271.42 71.79,271.02 76.27,270.62 80.74,270.21 85.21,269.79 89.69,269.36 94.16,268.92 98.63,268.46 103.11,267.99 107.58,267.5 112.05,266.98 116.53,266.43 121,265.85 125.47,265.22 129.94,264.53 134.42,263.77 138.89,262.93 143.36,262 147.84,260.97 152.31,259.84 156.78,258.61 161.26,257.28 165.73,255.87 170.2,254.39 174.68,252.85 179.15,251.26 183.62,249.64 188.1,247.99 192.57,246.31 197.04,244.61 201.52,242.89 205.99,241.16 210.46,239.41 214.94,237.66 219.41,235.9 223.88,234.13 228.36,232.35 232.83,230.57 232.83,260.67 228.36,261.06 223.88,261.46 219.41,261.87 214.94,262.28 210.46,262.7 205.99,263.13 201.52,263.58 197.04,264.03 192.57,264.51 188.1,265 183.62,265.52 179.15,266.07 174.68,266.66 170.2,267.3 165.73,267.99 161.26,268.76 156.78,269.6 152.31,270.54 147.84,271.58 143.36,272.73 138.89,273.97 134.42,275.31 129.94,276.72 125.47,278.21 121,279.75 116.53,281.34 112.05,282.97 107.58,284.63 103.11,286.31 98.63,288.01 94.16,289.73 89.69,291.46 85.21,293.21 80.74,294.96 76.27,296.72 71.79,298.49 67.32,300.27 62.85,302.05 58.37,303.83 53.9,305.62" fill="#999" fill-opacity="0.15"/>
<line x1="44.95" y1="217.7" x2="50.86" y2="217.7" stroke="#000" stroke-opacity="0.5" stroke-width="0.9"/>
<line x1="44.95" y1="230" x2="50.86" y2="230" stroke="#000" stroke-opacity="0.4" stroke-width="0.9"/>
<line x1="44.95" y1="231.4" x2="50.86" y2="231.4" stroke="#000" stroke-opacity="0.4" stroke-width="0.9"/>
<line x1="44.95" y1="239.1" x2="50.86" y2="239.1" stroke="#000" stroke-opacity="0.5" stroke-width="0.9"/>
<line x1="44.95" y1="241.4" x2="50.86" y2="241.4" stroke="#000" stroke-opacity="0.3" stroke-width="0.9"/>
<line x1="44.95" y1="244.5" x2="50.86" y2="244.5" stroke="#000" stroke-opacity="0.3" stroke-width="0.9"/>
<line x1="44.95" y1="247.3" x2="50.86" y2="247.3" stroke="#000" stroke-opacity="0.72" stroke-width="0.9"/>
<line x1="44.95" y1="248.2" x2="50.86" y2="248.2" stroke="#000" stroke-opacity="0.72" stroke-width="0.9"/>
<line x1="44.95" y1="249.1" x2="50.86" y2="249.1" stroke="#000" stroke-opacity="0.72" stroke-width="0.9"/>
<line x1="44.95" y1="250.9" x2="50.86" y2="250.9" stroke="#000" stroke-opacity="0.3" stroke-width="0.9"/>
<line x1="44.95" y1="256.8" x2="50.86" y2="256.8" stroke="#000" stroke-opacity="0.5" stroke-width="0.9"/>
<line x1="44.95" y1="258.2" x2="50.86" y2="258.2" stroke="#000" stroke-opacity="0.4" stroke-width="0.9"/>
<line x1="44.95" y1="260.7" x2="50.86" y2="260.7" stroke="#000" stroke-opacity="0.72" stroke-width="0.9"/>
<line x1="44.95" y1="263.9" x2="50.86" y2="263.9" stroke="#000" stroke-opacity="0.5" stroke-width="0.9"/>
<line x1="44.95" y1="264.5" x2="50.86" y2="264.5" stroke="#000" stroke-opacity="0.5" stroke-width="0.9"/>
<line x1="44.95" y1="267.1" x2="50.86" y2="267.1" stroke="#000" stroke-opacity="0.5" stroke-width="0.9"/>
<line x1="44.95" y1="270.9" x2="50.86" y2="270.9" stroke="#000" stroke-opacity="0.72" stroke-width="0.9"/>
<line x1="44.95" y1="271.6" x2="50.86" y2="271.6" stroke="#000" stroke-opacity="0.72" stroke-width="0.9"/>
<line x1="44.95" y1="272.2" x2="50.86" y2="272.2" stroke="#000" stroke-opacity="0.72" stroke-width="0.9"/>
<line x1="44.95" y1="275.4" x2="50.86" y2="275.4" stroke="#000" stroke-opacity="0.5" stroke-width="0.9"/>
<line x1="44.95" y1="281.7" x2="50.86" y2="281.7" stroke="#000" stroke-opacity="0.4" stroke-width="0.9"/>
<line x1="44.95" y1="286.2" x2="50.86" y2="286.2" stroke="#000" stroke-opacity="0.5" stroke-width="0.9"/>
<line x1="44.95" y1="287.4" x2="50.86" y2="287.4" stroke="#000" stroke-opacity="0.5" stroke-width="0.9"/>
<line x1="44.95" y1="295.1" x2="50.86" y2="295.1" stroke="#000" stroke-opacity="0.3" stroke-width="0.9"/>
<line x1="44.95" y1="301.4" x2="50.86" y2="301.4" stroke="#000" stroke-opacity="0.3" stroke-width="0.9"/>
<line x1="44.95" y1="316.1" x2="50.86" y2="316.1" stroke="#000" stroke-opacity="0.3" stroke-width="0.9"/>
<line x1="73" y1="344.87" x2="73" y2="340.55" stroke="#000" stroke-opacity="0.5" stroke-width="0.9"/>
<line x1="80.5" y1="344.87" x2="80.5" y2="340.55" stroke="#000" stroke-opacity="0.5" stroke-width="0.9"/>
<line x1="98.5" y1="344.87" x2="98.5" y2="340.55" stroke="#000" stroke-opacity="0.5" stroke-width="0.9"/>
<line x1="104.5" y1="344.87" x2="104.5" y2="340.55" stroke="#000" stroke-opacity="0.72" stroke-width="0.9"/>
<line x1="106" y1="344.87" x2="106" y2="340.55" stroke="#000" stroke-opacity="0.72" stroke-width="0.9"/>
<line x1="106.8" y1="344.87" x2="106.8" y2="340.55" stroke="#000" stroke-opacity="0.72" stroke-width="0.9"/>
<line x1="111.5" y1="344.87" x2="111.5" y2="340.55" stroke="#000" stroke-opacity="0.5" stroke-width="0.9"/>
<line x1="112.5" y1="344.87" x2="112.5" y2="340.55" stroke="#000" stroke-opacity="0.5" stroke-width="0.9"/>
<line x1="114" y1="344.87" x2="114" y2="340.55" stroke="#000" stroke-opacity="0.5" stroke-width="0.9"/>
<line x1="117" y1="344.87" x2="117" y2="340.55" stroke="#000" stroke-opacity="0.5" stroke-width="0.9"/>
<line x1="117.5" y1="344.87" x2="117.5" y2="340.55" stroke="#000" stroke-opacity="0.5" stroke-width="0.9"/>
<line x1="122" y1="344.87" x2="122" y2="340.55" stroke="#000" stroke-opacity="0.5" stroke-width="0.9"/>
<line x1="126" y1="344.87" x2="126" y2="340.55" stroke="#000" stroke-opacity="0.72" stroke-width="0.9"/>
<line x1="127" y1="344.87" x2="127" y2="340.55" stroke="#000" stroke-opacity="0.72" stroke-width="0.9"/>
<line x1="130.5" y1="344.87" x2="130.5" y2="340.55" stroke="#000" stroke-opacity="0.6" stroke-width="0.9"/>
<line x1="132" y1="344.87" x2="132" y2="340.55" stroke="#000" stroke-opacity="0.6" stroke-width="0.9"/>
<line x1="133.5" y1="344.87" x2="133.5" y2="340.55" stroke="#000" stroke-opacity="0.6" stroke-width="0.9"/>
<line x1="137" y1="344.87" x2="137" y2="340.55" stroke="#000" stroke-opacity="0.5" stroke-width="0.9"/>
<line x1="138" y1="344.87" x2="138" y2="340.55" stroke="#000" stroke-opacity="0.5" stroke-width="0.9"/>
<line x1="139" y1="344.87" x2="139" y2="340.55" stroke="#000" stroke-opacity="0.5" stroke-width="0.9"/>
<line x1="141" y1="344.87" x2="141" y2="340.55" stroke="#000" stroke-opacity="0.3" stroke-width="0.9"/>
<line x1="147" y1="344.87" x2="147" y2="340.55" stroke="#000" stroke-opacity="0.5" stroke-width="0.9"/>
<line x1="151" y1="344.87" x2="151" y2="340.55" stroke="#000" stroke-opacity="0.72" stroke-width="0.9"/>
<line x1="152" y1="344.87" x2="152" y2="340.55" stroke="#000" stroke-opacity="0.72" stroke-width="0.9"/>
<line x1="153" y1="344.87" x2="153" y2="340.55" stroke="#000" stroke-opacity="0.72" stroke-width="0.9"/>
<line x1="156" y1="344.87" x2="156" y2="340.55" stroke="#000" stroke-opacity="0.5" stroke-width="0.9"/>
<line x1="159" y1="344.87" x2="159" y2="340.55" stroke="#000" stroke-opacity="0.5" stroke-width="0.9"/>
<line x1="165.5" y1="344.87" x2="165.5" y2="340.55" stroke="#000" stroke-opacity="0.72" stroke-width="0.9"/>
<line x1="166.5" y1="344.87" x2="166.5" y2="340.55" stroke="#000" stroke-opacity="0.72" stroke-width="0.9"/>
<line x1="167.5" y1="344.87" x2="167.5" y2="340.55" stroke="#000" stroke-opacity="0.72" stroke-width="0.9"/>
<line x1="174" y1="344.87" x2="174" y2="340.55" stroke="#000" stroke-opacity="0.5" stroke-width="0.9"/>
<line x1="178" y1="344.87" x2="178" y2="340.55" stroke="#000" stroke-opacity="0.72" stroke-width="0.9"/>
<line x1="179.5" y1="344.87" x2="179.5" y2="340.55" stroke="#000" stroke-opacity="0.72" stroke-width="0.9"/>
<line x1="181" y1="344.87" x2="181" y2="340.55" stroke="#000" stroke-opacity="0.72" stroke-width="0.9"/>
<line x1="187" y1="344.87" x2="187" y2="340.55" stroke="#000" stroke-opacity="0.5" stroke-width="0.9"/>
<line x1="200.5" y1="344.87" x2="200.5" y2="340.55" stroke="#000" stroke-opacity="0.5" stroke-width="0.9"/>
<line x1="211" y1="344.87" x2="211" y2="340.55" stroke="#000" stroke-opacity="0.72" stroke-width="0.9"/>
<line x1="212.3" y1="344.87" x2="212.3" y2="340.55" stroke="#000" stroke-opacity="0.72" stroke-width="0.9"/>
<line x1="213.5" y1="344.87" x2="213.5" y2="340.55" stroke="#000" stroke-opacity="0.72" stroke-width="0.9"/>
<line x1="221.5" y1="344.87" x2="221.5" y2="340.55" stroke="#000" stroke-opacity="0.5" stroke-width="0.9"/>
<line x1="53.9" y1="289.11" x2="232.83" y2="245.62" stroke="#000" stroke-width="1.3"/>
<circle cx="120.17" cy="227.6" r="1.6" fill="#000"/>
<circle cx="126.8" cy="237.67" r="1.6" fill="#000"/>
<circle cx="126.8" cy="247.74" r="1.6" fill="#000"/>
<circle cx="127.3" cy="248.34" r="1.6" fill="#000"/>
<circle cx="133.42" cy="247.74" r="1.6" fill="#000"/>
<circle cx="140.05" cy="247.74" r="1.6" fill="#000"/>
<circle cx="140.55" cy="248.34" r="1.6" fill="#000"/>
<circle cx="106.92" cy="257.8" r="1.6" fill="#000"/>
<circle cx="113.54" cy="257.8" r="1.6" fill="#000"/>
<circle cx="113.54" cy="267.87" r="1.6" fill="#000"/>
<circle cx="133.42" cy="267.87" r="1.6" fill="#000"/>
<circle cx="140.05" cy="267.87" r="1.6" fill="#000"/>
<circle cx="100.29" cy="277.93" r="1.6" fill="#000"/>
<circle cx="106.92" cy="277.93" r="1.6" fill="#000"/>
<circle cx="113.54" cy="277.93" r="1.6" fill="#000"/>
<circle cx="120.17" cy="277.93" r="1.6" fill="#000"/>
<circle cx="126.8" cy="277.93" r="1.6" fill="#000"/>
<circle cx="133.42" cy="277.93" r="1.6" fill="#000"/>
<circle cx="179.81" cy="217.54" r="1.6" fill="#000"/>
<circle cx="212.95" cy="227.6" r="1.6" fill="#000"/>
<circle cx="173.19" cy="237.67" r="1.6" fill="#000"/>
<circle cx="166.56" cy="247.74" r="1.6" fill="#000"/>
<circle cx="179.81" cy="247.74" r="1.6" fill="#000"/>
<circle cx="199.69" cy="247.74" r="1.6" fill="#000"/>
<circle cx="166.56" cy="257.8" r="1.6" fill="#000"/>
<circle cx="167.06" cy="258.4" r="1.6" fill="#000"/>
<circle cx="173.19" cy="257.8" r="1.6" fill="#000"/>
<circle cx="179.81" cy="257.8" r="1.6" fill="#000"/>
<circle cx="186.44" cy="257.8" r="1.6" fill="#000"/>
<circle cx="153.31" cy="267.87" r="1.6" fill="#000"/>
<circle cx="153.81" cy="268.47" r="1.6" fill="#000"/>
<circle cx="166.56" cy="267.87" r="1.6" fill="#000"/>
<circle cx="167.06" cy="268.47" r="1.6" fill="#000"/>
<circle cx="179.81" cy="267.87" r="1.6" fill="#000"/>
<circle cx="212.95" cy="267.87" r="1.6" fill="#000"/>
<circle cx="146.68" cy="277.93" r="1.6" fill="#000"/>
<circle cx="153.31" cy="277.93" r="1.6" fill="#000"/>
<circle cx="159.93" cy="277.93" r="1.6" fill="#000"/>
<circle cx="160.43" cy="278.53" r="1.6" fill="#000"/>
<circle cx="166.56" cy="277.93" r="1.6" fill="#000"/>
<circle cx="80.41" cy="288" r="1.6" fill="#000"/>
<circle cx="106.92" cy="288" r="1.6" fill="#000"/>
<circle cx="107.42" cy="288.6" r="1.6" fill="#000"/>
<circle cx="126.8" cy="288" r="1.6" fill="#000"/>
<circle cx="127.3" cy="288.6" r="1.6" fill="#000"/>
<circle cx="133.42" cy="318.2" r="1.6" fill="#000"/>
<circle cx="219.57" cy="288" r="1.6" fill="#000"/>
<circle cx="179.81" cy="298.07" r="1.6" fill="#000"/>
<rect x="44.95" y="201.35" width="196.82" height="143.52" fill="none" stroke="#9A9A9A" stroke-width="0.8"/>
<line x1="53.9" y1="344.87" x2="53.9" y2="345.97" stroke="#A8A8A8" stroke-width="0.6"/>
<text x="53.9" y="351.9" text-anchor="middle" class="tk">−20</text>
<line x1="87.03" y1="344.87" x2="87.03" y2="345.97" stroke="#A8A8A8" stroke-width="0.6"/>
<text x="87.03" y="351.9" text-anchor="middle" class="tk">−15</text>
<line x1="120.17" y1="344.87" x2="120.17" y2="345.97" stroke="#A8A8A8" stroke-width="0.6"/>
<text x="120.17" y="351.9" text-anchor="middle" class="tk">−10</text>
<line x1="153.31" y1="344.87" x2="153.31" y2="345.97" stroke="#A8A8A8" stroke-width="0.6"/>
<text x="153.31" y="351.9" text-anchor="middle" class="tk">−5</text>
<line x1="186.44" y1="344.87" x2="186.44" y2="345.97" stroke="#A8A8A8" stroke-width="0.6"/>
<text x="186.44" y="351.9" text-anchor="middle" class="tk">0</text>
<line x1="219.57" y1="344.87" x2="219.57" y2="345.97" stroke="#A8A8A8" stroke-width="0.6"/>
<text x="219.57" y="351.9" text-anchor="middle" class="tk">5</text>
<line x1="43.85" y1="217.54" x2="44.95" y2="217.54" stroke="#A8A8A8" stroke-width="0.6"/>
<text x="42.3" y="219.99" text-anchor="end" class="tk">2</text>
<line x1="43.85" y1="237.67" x2="44.95" y2="237.67" stroke="#A8A8A8" stroke-width="0.6"/>
<text x="42.3" y="240.12" text-anchor="end" class="tk">0</text>
<line x1="43.85" y1="257.8" x2="44.95" y2="257.8" stroke="#A8A8A8" stroke-width="0.6"/>
<text x="42.3" y="260.26" text-anchor="end" class="tk">−2</text>
<line x1="43.85" y1="277.93" x2="44.95" y2="277.93" stroke="#A8A8A8" stroke-width="0.6"/>
<text x="42.3" y="280.39" text-anchor="end" class="tk">−4</text>
<line x1="43.85" y1="298.07" x2="44.95" y2="298.07" stroke="#A8A8A8" stroke-width="0.6"/>
<text x="42.3" y="300.52" text-anchor="end" class="tk">−6</text>
<line x1="43.85" y1="318.2" x2="44.95" y2="318.2" stroke="#A8A8A8" stroke-width="0.6"/>
<text x="42.3" y="320.65" text-anchor="end" class="tk">−8</text>
<line x1="43.85" y1="338.33" x2="44.95" y2="338.33" stroke="#A8A8A8" stroke-width="0.6"/>
<text x="42.3" y="340.78" text-anchor="end" class="tk">−10</text>
<text x="44.95" y="197.2" class="tt">Correlation – tinnitus ignorability &amp; tinnitus distress</text>
<text x="7.1" y="203.9" class="lb">C)</text>
<text transform="translate(29.9,273.5) rotate(-90)" text-anchor="middle" class="yt">Δ Numeric Rating Scale – tinnitus ignorability (post–pre)</text>
<text x="143.36" y="358.7" text-anchor="middle" class="xt">Δ Mini Tinnitus Questionnaire (post–pre)</text>
<rect x="133.94" y="322.06" width="104.99" height="12.6" fill="#fff"/>
<text x="186.44" y="330.71" text-anchor="middle" class="rt">R = 0.34, p = 0.014, p.adj = 0.073</text>
<rect x="297.95" y="200.93" width="196.82" height="143.94" fill="#fff"/>
<line x1="306.9" y1="200.93" x2="306.9" y2="344.87" stroke="#E6E6E6" stroke-width="0.6"/>
<line x1="340.03" y1="200.93" x2="340.03" y2="344.87" stroke="#E6E6E6" stroke-width="0.6"/>
<line x1="373.17" y1="200.93" x2="373.17" y2="344.87" stroke="#E6E6E6" stroke-width="0.6"/>
<line x1="406.3" y1="200.93" x2="406.3" y2="344.87" stroke="#E6E6E6" stroke-width="0.6"/>
<line x1="439.44" y1="200.93" x2="439.44" y2="344.87" stroke="#E6E6E6" stroke-width="0.6"/>
<line x1="472.57" y1="200.93" x2="472.57" y2="344.87" stroke="#E6E6E6" stroke-width="0.6"/>
<line x1="297.95" y1="217.54" x2="494.78" y2="217.54" stroke="#E6E6E6" stroke-width="0.6"/>
<line x1="297.95" y1="237.67" x2="494.78" y2="237.67" stroke="#E6E6E6" stroke-width="0.6"/>
<line x1="297.95" y1="257.8" x2="494.78" y2="257.8" stroke="#E6E6E6" stroke-width="0.6"/>
<line x1="297.95" y1="277.93" x2="494.78" y2="277.93" stroke="#E6E6E6" stroke-width="0.6"/>
<line x1="297.95" y1="298.07" x2="494.78" y2="298.07" stroke="#E6E6E6" stroke-width="0.6"/>
<line x1="297.95" y1="318.2" x2="494.78" y2="318.2" stroke="#E6E6E6" stroke-width="0.6"/>
<line x1="297.95" y1="338.33" x2="494.78" y2="338.33" stroke="#E6E6E6" stroke-width="0.6"/>
<polygon points="306.9,236.49 311.37,237.5 315.85,238.51 320.32,239.51 324.79,240.51 329.27,241.5 333.74,242.48 338.21,243.45 342.69,244.42 347.16,245.37 351.63,246.31 356.11,247.23 360.58,248.14 365.05,249.01 369.53,249.86 374,250.67 378.47,251.44 382.94,252.16 387.42,252.81 391.89,253.38 396.36,253.87 400.84,254.26 405.31,254.56 409.78,254.76 414.26,254.87 418.73,254.91 423.2,254.87 427.68,254.78 432.15,254.63 436.62,254.45 441.1,254.24 445.57,254 450.04,253.74 454.52,253.46 458.99,253.16 463.46,252.86 467.94,252.54 472.41,252.22 476.88,251.88 481.36,251.54 485.83,251.2 485.83,280.51 481.36,279.51 476.88,278.52 472.41,277.53 467.94,276.55 463.46,275.58 458.99,274.62 454.52,273.67 450.04,272.74 445.57,271.82 441.1,270.93 436.62,270.06 432.15,269.23 427.68,268.43 423.2,267.68 418.73,266.99 414.26,266.37 409.78,265.82 405.31,265.37 400.84,265.01 396.36,264.75 391.89,264.59 387.42,264.51 382.94,264.5 378.47,264.56 374,264.68 369.53,264.84 365.05,265.03 360.58,265.25 356.11,265.5 351.63,265.77 347.16,266.06 342.69,266.35 338.21,266.67 333.74,266.99 329.27,267.31 324.79,267.65 320.32,267.99 315.85,268.34 311.37,268.69 306.9,269.04" fill="#999" fill-opacity="0.15"/>
<line x1="297.95" y1="216.4" x2="303.86" y2="216.4" stroke="#000" stroke-opacity="0.5" stroke-width="0.9"/>
<line x1="297.95" y1="225.5" x2="303.86" y2="225.5" stroke="#000" stroke-opacity="0.5" stroke-width="0.9"/>
<line x1="297.95" y1="234.1" x2="303.86" y2="234.1" stroke="#000" stroke-opacity="0.72" stroke-width="0.9"/>
<line x1="297.95" y1="235" x2="303.86" y2="235" stroke="#000" stroke-opacity="0.5" stroke-width="0.9"/>
<line x1="297.95" y1="238.2" x2="303.86" y2="238.2" stroke="#000" stroke-opacity="0.72" stroke-width="0.9"/>
<line x1="297.95" y1="239.1" x2="303.86" y2="239.1" stroke="#000" stroke-opacity="0.85" stroke-width="0.9"/>
<line x1="297.95" y1="240" x2="303.86" y2="240" stroke="#000" stroke-opacity="0.85" stroke-width="0.9"/>
<line x1="297.95" y1="240.9" x2="303.86" y2="240.9" stroke="#000" stroke-opacity="0.72" stroke-width="0.9"/>
<line x1="297.95" y1="246.4" x2="303.86" y2="246.4" stroke="#000" stroke-opacity="0.4" stroke-width="0.9"/>
<line x1="297.95" y1="247.3" x2="303.86" y2="247.3" stroke="#000" stroke-opacity="0.4" stroke-width="0.9"/>
<line x1="297.95" y1="249.5" x2="303.86" y2="249.5" stroke="#000" stroke-opacity="0.5" stroke-width="0.9"/>
<line x1="297.95" y1="250" x2="303.86" y2="250" stroke="#000" stroke-opacity="0.5" stroke-width="0.9"/>
<line x1="297.95" y1="255" x2="303.86" y2="255" stroke="#000" stroke-opacity="0.72" stroke-width="0.9"/>
<line x1="297.95" y1="257.5" x2="303.86" y2="257.5" stroke="#000" stroke-opacity="0.72" stroke-width="0.9"/>
<line x1="297.95" y1="258.6" x2="303.86" y2="258.6" stroke="#000" stroke-opacity="0.72" stroke-width="0.9"/>
<line x1="297.95" y1="259.9" x2="303.86" y2="259.9" stroke="#000" stroke-opacity="0.5" stroke-width="0.9"/>
<line x1="297.95" y1="265.4" x2="303.86" y2="265.4" stroke="#000" stroke-opacity="0.72" stroke-width="0.9"/>
<line x1="297.95" y1="267" x2="303.86" y2="267" stroke="#000" stroke-opacity="0.5" stroke-width="0.9"/>
<line x1="297.95" y1="268.1" x2="303.86" y2="268.1" stroke="#000" stroke-opacity="0.5" stroke-width="0.9"/>
<line x1="297.95" y1="269.2" x2="303.86" y2="269.2" stroke="#000" stroke-opacity="0.5" stroke-width="0.9"/>
<line x1="297.95" y1="271.4" x2="303.86" y2="271.4" stroke="#000" stroke-opacity="0.72" stroke-width="0.9"/>
<line x1="297.95" y1="274.6" x2="303.86" y2="274.6" stroke="#000" stroke-opacity="0.3" stroke-width="0.9"/>
<line x1="297.95" y1="276.3" x2="303.86" y2="276.3" stroke="#000" stroke-opacity="0.3" stroke-width="0.9"/>
<line x1="297.95" y1="277.9" x2="303.86" y2="277.9" stroke="#000" stroke-opacity="0.72" stroke-width="0.9"/>
<line x1="297.95" y1="279.2" x2="303.86" y2="279.2" stroke="#000" stroke-opacity="0.72" stroke-width="0.9"/>
<line x1="297.95" y1="280.6" x2="303.86" y2="280.6" stroke="#000" stroke-opacity="0.72" stroke-width="0.9"/>
<line x1="297.95" y1="285.5" x2="303.86" y2="285.5" stroke="#000" stroke-opacity="0.3" stroke-width="0.9"/>
<line x1="297.95" y1="290.4" x2="303.86" y2="290.4" stroke="#000" stroke-opacity="0.72" stroke-width="0.9"/>
<line x1="297.95" y1="299.2" x2="303.86" y2="299.2" stroke="#000" stroke-opacity="0.5" stroke-width="0.9"/>
<line x1="297.95" y1="309.5" x2="303.86" y2="309.5" stroke="#000" stroke-opacity="0.3" stroke-width="0.9"/>
<line x1="328.5" y1="344.87" x2="328.5" y2="340.55" stroke="#000" stroke-opacity="0.5" stroke-width="0.9"/>
<line x1="333" y1="344.87" x2="333" y2="340.55" stroke="#000" stroke-opacity="0.5" stroke-width="0.9"/>
<line x1="334" y1="344.87" x2="334" y2="340.55" stroke="#000" stroke-opacity="0.5" stroke-width="0.9"/>
<line x1="352.5" y1="344.87" x2="352.5" y2="340.55" stroke="#000" stroke-opacity="0.5" stroke-width="0.9"/>
<line x1="360.5" y1="344.87" x2="360.5" y2="340.55" stroke="#000" stroke-opacity="0.72" stroke-width="0.9"/>
<line x1="362" y1="344.87" x2="362" y2="340.55" stroke="#000" stroke-opacity="0.5" stroke-width="0.9"/>
<line x1="366" y1="344.87" x2="366" y2="340.55" stroke="#000" stroke-opacity="0.72" stroke-width="0.9"/>
<line x1="367.5" y1="344.87" x2="367.5" y2="340.55" stroke="#000" stroke-opacity="0.72" stroke-width="0.9"/>
<line x1="371.5" y1="344.87" x2="371.5" y2="340.55" stroke="#000" stroke-opacity="0.5" stroke-width="0.9"/>
<line x1="375" y1="344.87" x2="375" y2="340.55" stroke="#000" stroke-opacity="0.5" stroke-width="0.9"/>
<line x1="378.5" y1="344.87" x2="378.5" y2="340.55" stroke="#000" stroke-opacity="0.72" stroke-width="0.9"/>
<line x1="380" y1="344.87" x2="380" y2="340.55" stroke="#000" stroke-opacity="0.72" stroke-width="0.9"/>
<line x1="381.5" y1="344.87" x2="381.5" y2="340.55" stroke="#000" stroke-opacity="0.5" stroke-width="0.9"/>
<line x1="385.5" y1="344.87" x2="385.5" y2="340.55" stroke="#000" stroke-opacity="0.72" stroke-width="0.9"/>
<line x1="386.8" y1="344.87" x2="386.8" y2="340.55" stroke="#000" stroke-opacity="0.72" stroke-width="0.9"/>
<line x1="388" y1="344.87" x2="388" y2="340.55" stroke="#000" stroke-opacity="0.72" stroke-width="0.9"/>
<line x1="391" y1="344.87" x2="391" y2="340.55" stroke="#000" stroke-opacity="0.3" stroke-width="0.9"/>
<line x1="394.5" y1="344.87" x2="394.5" y2="340.55" stroke="#000" stroke-opacity="0.5" stroke-width="0.9"/>
<line x1="395.5" y1="344.87" x2="395.5" y2="340.55" stroke="#000" stroke-opacity="0.5" stroke-width="0.9"/>
<line x1="398" y1="344.87" x2="398" y2="340.55" stroke="#000" stroke-opacity="0.3" stroke-width="0.9"/>
<line x1="404" y1="344.87" x2="404" y2="340.55" stroke="#000" stroke-opacity="0.5" stroke-width="0.9"/>
<line x1="404.5" y1="344.87" x2="404.5" y2="340.55" stroke="#000" stroke-opacity="0.5" stroke-width="0.9"/>
<line x1="407.5" y1="344.87" x2="407.5" y2="340.55" stroke="#000" stroke-opacity="0.5" stroke-width="0.9"/>
<line x1="408.5" y1="344.87" x2="408.5" y2="340.55" stroke="#000" stroke-opacity="0.5" stroke-width="0.9"/>
<line x1="409.5" y1="344.87" x2="409.5" y2="340.55" stroke="#000" stroke-opacity="0.5" stroke-width="0.9"/>
<line x1="413" y1="344.87" x2="413" y2="340.55" stroke="#000" stroke-opacity="0.5" stroke-width="0.9"/>
<line x1="417.5" y1="344.87" x2="417.5" y2="340.55" stroke="#000" stroke-opacity="0.72" stroke-width="0.9"/>
<line x1="419" y1="344.87" x2="419" y2="340.55" stroke="#000" stroke-opacity="0.72" stroke-width="0.9"/>
<line x1="420.5" y1="344.87" x2="420.5" y2="340.55" stroke="#000" stroke-opacity="0.72" stroke-width="0.9"/>
<line x1="424.5" y1="344.87" x2="424.5" y2="340.55" stroke="#000" stroke-opacity="0.5" stroke-width="0.9"/>
<line x1="427" y1="344.87" x2="427" y2="340.55" stroke="#000" stroke-opacity="0.5" stroke-width="0.9"/>
<line x1="429" y1="344.87" x2="429" y2="340.55" stroke="#000" stroke-opacity="0.3" stroke-width="0.9"/>
<line x1="432" y1="344.87" x2="432" y2="340.55" stroke="#000" stroke-opacity="0.72" stroke-width="0.9"/>
<line x1="440.5" y1="344.87" x2="440.5" y2="340.55" stroke="#000" stroke-opacity="0.5" stroke-width="0.9"/>
<line x1="455" y1="344.87" x2="455" y2="340.55" stroke="#000" stroke-opacity="0.5" stroke-width="0.9"/>
<line x1="465" y1="344.87" x2="465" y2="340.55" stroke="#000" stroke-opacity="0.72" stroke-width="0.9"/>
<line x1="474" y1="344.87" x2="474" y2="340.55" stroke="#000" stroke-opacity="0.5" stroke-width="0.9"/>
<line x1="306.9" y1="252.77" x2="485.83" y2="265.85" stroke="#000" stroke-width="1.3"/>
<circle cx="379.8" cy="217.54" r="1.6" fill="#000"/>
<circle cx="353.29" cy="237.67" r="1.6" fill="#000"/>
<circle cx="373.17" cy="237.67" r="1.6" fill="#000"/>
<circle cx="379.8" cy="237.67" r="1.6" fill="#000"/>
<circle cx="386.42" cy="237.67" r="1.6" fill="#000"/>
<circle cx="386.92" cy="238.27" r="1.6" fill="#000"/>
<circle cx="393.05" cy="237.67" r="1.6" fill="#000"/>
<circle cx="333.41" cy="247.74" r="1.6" fill="#000"/>
<circle cx="359.92" cy="247.74" r="1.6" fill="#000"/>
<circle cx="379.8" cy="247.74" r="1.6" fill="#000"/>
<circle cx="326.78" cy="257.8" r="1.6" fill="#000"/>
<circle cx="366.54" cy="257.8" r="1.6" fill="#000"/>
<circle cx="379.8" cy="257.8" r="1.6" fill="#000"/>
<circle cx="393.05" cy="257.8" r="1.6" fill="#000"/>
<circle cx="359.92" cy="267.87" r="1.6" fill="#000"/>
<circle cx="373.17" cy="267.87" r="1.6" fill="#000"/>
<circle cx="379.8" cy="267.87" r="1.6" fill="#000"/>
<circle cx="386.42" cy="267.87" r="1.6" fill="#000"/>
<circle cx="366.54" cy="277.93" r="1.6" fill="#000"/>
<circle cx="367.04" cy="278.53" r="1.6" fill="#000"/>
<circle cx="393.05" cy="277.93" r="1.6" fill="#000"/>
<circle cx="419.56" cy="227.6" r="1.6" fill="#000"/>
<circle cx="399.68" cy="237.67" r="1.6" fill="#000"/>
<circle cx="406.3" cy="237.67" r="1.6" fill="#000"/>
<circle cx="419.56" cy="237.67" r="1.6" fill="#000"/>
<circle cx="439.44" cy="237.67" r="1.6" fill="#000"/>
<circle cx="452.69" cy="237.67" r="1.6" fill="#000"/>
<circle cx="465.95" cy="237.67" r="1.6" fill="#000"/>
<circle cx="412.93" cy="247.74" r="1.6" fill="#000"/>
<circle cx="419.56" cy="257.8" r="1.6" fill="#000"/>
<circle cx="420.06" cy="258.4" r="1.6" fill="#000"/>
<circle cx="432.81" cy="257.8" r="1.6" fill="#000"/>
<circle cx="433.31" cy="258.4" r="1.6" fill="#000"/>
<circle cx="406.3" cy="267.87" r="1.6" fill="#000"/>
<circle cx="426.19" cy="267.87" r="1.6" fill="#000"/>
<circle cx="432.81" cy="267.87" r="1.6" fill="#000"/>
<circle cx="465.95" cy="267.87" r="1.6" fill="#000"/>
<circle cx="419.56" cy="277.93" r="1.6" fill="#000"/>
<circle cx="426.19" cy="277.93" r="1.6" fill="#000"/>
<circle cx="432.81" cy="277.93" r="1.6" fill="#000"/>
<circle cx="433.31" cy="278.53" r="1.6" fill="#000"/>
<circle cx="386.42" cy="308.13" r="1.6" fill="#000"/>
<circle cx="406.3" cy="288" r="1.6" fill="#000"/>
<circle cx="419.56" cy="288" r="1.6" fill="#000"/>
<circle cx="412.93" cy="298.07" r="1.6" fill="#000"/>
<circle cx="472.57" cy="288" r="1.6" fill="#000"/>
<rect x="297.95" y="201.35" width="196.82" height="143.52" fill="none" stroke="#9A9A9A" stroke-width="0.8"/>
<line x1="306.9" y1="344.87" x2="306.9" y2="345.97" stroke="#A8A8A8" stroke-width="0.6"/>
<text x="306.9" y="351.9" text-anchor="middle" class="tk">−20</text>
<line x1="340.03" y1="344.87" x2="340.03" y2="345.97" stroke="#A8A8A8" stroke-width="0.6"/>
<text x="340.03" y="351.9" text-anchor="middle" class="tk">−15</text>
<line x1="373.17" y1="344.87" x2="373.17" y2="345.97" stroke="#A8A8A8" stroke-width="0.6"/>
<text x="373.17" y="351.9" text-anchor="middle" class="tk">−10</text>
<line x1="406.3" y1="344.87" x2="406.3" y2="345.97" stroke="#A8A8A8" stroke-width="0.6"/>
<text x="406.3" y="351.9" text-anchor="middle" class="tk">−5</text>
<line x1="439.44" y1="344.87" x2="439.44" y2="345.97" stroke="#A8A8A8" stroke-width="0.6"/>
<text x="439.44" y="351.9" text-anchor="middle" class="tk">0</text>
<line x1="472.57" y1="344.87" x2="472.57" y2="345.97" stroke="#A8A8A8" stroke-width="0.6"/>
<text x="472.57" y="351.9" text-anchor="middle" class="tk">5</text>
<line x1="296.85" y1="217.54" x2="297.95" y2="217.54" stroke="#A8A8A8" stroke-width="0.6"/>
<text x="295.3" y="219.99" text-anchor="end" class="tk">2</text>
<line x1="296.85" y1="237.67" x2="297.95" y2="237.67" stroke="#A8A8A8" stroke-width="0.6"/>
<text x="295.3" y="240.12" text-anchor="end" class="tk">0</text>
<line x1="296.85" y1="257.8" x2="297.95" y2="257.8" stroke="#A8A8A8" stroke-width="0.6"/>
<text x="295.3" y="260.26" text-anchor="end" class="tk">−2</text>
<line x1="296.85" y1="277.93" x2="297.95" y2="277.93" stroke="#A8A8A8" stroke-width="0.6"/>
<text x="295.3" y="280.39" text-anchor="end" class="tk">−4</text>
<line x1="296.85" y1="298.07" x2="297.95" y2="298.07" stroke="#A8A8A8" stroke-width="0.6"/>
<text x="295.3" y="300.52" text-anchor="end" class="tk">−6</text>
<line x1="296.85" y1="318.2" x2="297.95" y2="318.2" stroke="#A8A8A8" stroke-width="0.6"/>
<text x="295.3" y="320.65" text-anchor="end" class="tk">−8</text>
<line x1="296.85" y1="338.33" x2="297.95" y2="338.33" stroke="#A8A8A8" stroke-width="0.6"/>
<text x="295.3" y="340.78" text-anchor="end" class="tk">−10</text>
<text x="297.95" y="197.2" class="tt">Correlation – tinnitus annoyance &amp; tinnitus distress</text>
<text x="260.1" y="203.9" class="lb">D)</text>
<text transform="translate(282.9,273.5) rotate(-90)" text-anchor="middle" class="yt">Δ Numeric Rating Scale – tinnitus annoyance (post–pre)</text>
<text x="396.36" y="358.7" text-anchor="middle" class="xt">Δ Mini Tinnitus Questionnaire (post–pre)</text>
<rect x="385.42" y="322.06" width="108.03" height="12.6" fill="#fff"/>
<text x="439.44" y="330.71" text-anchor="middle" class="rt">R = −0.14, p = 0.340, p.adj > 0.999</text>
<rect x="44.95" y="386.83" width="196.82" height="143.94" fill="#fff"/>
<line x1="53.9" y1="386.83" x2="53.9" y2="530.77" stroke="#E6E6E6" stroke-width="0.6"/>
<line x1="87.03" y1="386.83" x2="87.03" y2="530.77" stroke="#E6E6E6" stroke-width="0.6"/>
<line x1="120.17" y1="386.83" x2="120.17" y2="530.77" stroke="#E6E6E6" stroke-width="0.6"/>
<line x1="153.31" y1="386.83" x2="153.31" y2="530.77" stroke="#E6E6E6" stroke-width="0.6"/>
<line x1="186.44" y1="386.83" x2="186.44" y2="530.77" stroke="#E6E6E6" stroke-width="0.6"/>
<line x1="219.57" y1="386.83" x2="219.57" y2="530.77" stroke="#E6E6E6" stroke-width="0.6"/>
<line x1="44.95" y1="403.44" x2="241.78" y2="403.44" stroke="#E6E6E6" stroke-width="0.6"/>
<line x1="44.95" y1="423.57" x2="241.78" y2="423.57" stroke="#E6E6E6" stroke-width="0.6"/>
<line x1="44.95" y1="443.7" x2="241.78" y2="443.7" stroke="#E6E6E6" stroke-width="0.6"/>
<line x1="44.95" y1="463.83" x2="241.78" y2="463.83" stroke="#E6E6E6" stroke-width="0.6"/>
<line x1="44.95" y1="483.97" x2="241.78" y2="483.97" stroke="#E6E6E6" stroke-width="0.6"/>
<line x1="44.95" y1="504.1" x2="241.78" y2="504.1" stroke="#E6E6E6" stroke-width="0.6"/>
<line x1="44.95" y1="524.23" x2="241.78" y2="524.23" stroke="#E6E6E6" stroke-width="0.6"/>
<polygon points="53.9,458.66 58.37,458.02 62.85,457.38 67.32,456.73 71.79,456.08 76.27,455.42 80.74,454.76 85.21,454.08 89.69,453.4 94.16,452.71 98.63,452 103.11,451.28 107.58,450.54 112.05,449.77 116.53,448.98 121,448.15 125.47,447.27 129.94,446.35 134.42,445.36 138.89,444.31 143.36,443.18 147.84,441.96 152.31,440.67 156.78,439.29 161.26,437.85 165.73,436.35 170.2,434.79 174.68,433.19 179.15,431.56 183.62,429.89 188.1,428.2 192.57,426.5 197.04,424.77 201.52,423.04 205.99,421.29 210.46,419.53 214.94,417.76 219.41,415.99 223.88,414.21 228.36,412.43 232.83,410.64 232.83,436.3 228.36,436.94 223.88,437.59 219.41,438.24 214.94,438.9 210.46,439.56 205.99,440.24 201.52,440.92 197.04,441.61 192.57,442.32 188.1,443.04 183.62,443.79 179.15,444.55 174.68,445.35 170.2,446.18 165.73,447.06 161.26,447.98 156.78,448.97 152.31,450.03 147.84,451.16 143.36,452.38 138.89,453.68 134.42,455.06 129.94,456.5 125.47,458.01 121,459.57 116.53,461.17 112.05,462.8 107.58,464.47 103.11,466.16 98.63,467.87 94.16,469.59 89.69,471.33 85.21,473.08 80.74,474.83 76.27,476.6 71.79,478.37 67.32,480.15 62.85,481.94 58.37,483.72 53.9,485.51" fill="#999" fill-opacity="0.15"/>
<line x1="44.95" y1="403.6" x2="50.86" y2="403.6" stroke="#000" stroke-opacity="0.5" stroke-width="0.9"/>
<line x1="44.95" y1="404.1" x2="50.86" y2="404.1" stroke="#000" stroke-opacity="0.5" stroke-width="0.9"/>
<line x1="44.95" y1="412.3" x2="50.86" y2="412.3" stroke="#000" stroke-opacity="0.4" stroke-width="0.9"/>
<line x1="44.95" y1="419.5" x2="50.86" y2="419.5" stroke="#000" stroke-opacity="0.4" stroke-width="0.9"/>
<line x1="44.95" y1="421.8" x2="50.86" y2="421.8" stroke="#000" stroke-opacity="0.5" stroke-width="0.9"/>
<line x1="44.95" y1="423.6" x2="50.86" y2="423.6" stroke="#000" stroke-opacity="0.72" stroke-width="0.9"/>
<line x1="44.95" y1="426.4" x2="50.86" y2="426.4" stroke="#000" stroke-opacity="0.72" stroke-width="0.9"/>
<line x1="44.95" y1="429.1" x2="50.86" y2="429.1" stroke="#000" stroke-opacity="0.85" stroke-width="0.9"/>
<line x1="44.95" y1="430" x2="50.86" y2="430" stroke="#000" stroke-opacity="0.85" stroke-width="0.9"/>
<line x1="44.95" y1="431" x2="50.86" y2="431" stroke="#000" stroke-opacity="0.85" stroke-width="0.9"/>
<line x1="44.95" y1="432" x2="50.86" y2="432" stroke="#000" stroke-opacity="0.72" stroke-width="0.9"/>
<line x1="44.95" y1="435.5" x2="50.86" y2="435.5" stroke="#000" stroke-opacity="0.5" stroke-width="0.9"/>
<line x1="44.95" y1="436.4" x2="50.86" y2="436.4" stroke="#000" stroke-opacity="0.5" stroke-width="0.9"/>
<line x1="44.95" y1="437.3" x2="50.86" y2="437.3" stroke="#000" stroke-opacity="0.5" stroke-width="0.9"/>
<line x1="44.95" y1="440.5" x2="50.86" y2="440.5" stroke="#000" stroke-opacity="0.72" stroke-width="0.9"/>
<line x1="44.95" y1="441" x2="50.86" y2="441" stroke="#000" stroke-opacity="0.5" stroke-width="0.9"/>
<line x1="44.95" y1="443.6" x2="50.86" y2="443.6" stroke="#000" stroke-opacity="0.5" stroke-width="0.9"/>
<line x1="44.95" y1="444.9" x2="50.86" y2="444.9" stroke="#000" stroke-opacity="0.5" stroke-width="0.9"/>
<line x1="44.95" y1="450.4" x2="50.86" y2="450.4" stroke="#000" stroke-opacity="0.5" stroke-width="0.9"/>
<line x1="44.95" y1="453.1" x2="50.86" y2="453.1" stroke="#000" stroke-opacity="0.72" stroke-width="0.9"/>
<line x1="44.95" y1="453.6" x2="50.86" y2="453.6" stroke="#000" stroke-opacity="0.5" stroke-width="0.9"/>
<line x1="44.95" y1="457.4" x2="50.86" y2="457.4" stroke="#000" stroke-opacity="0.5" stroke-width="0.9"/>
<line x1="44.95" y1="460.7" x2="50.86" y2="460.7" stroke="#000" stroke-opacity="0.5" stroke-width="0.9"/>
<line x1="44.95" y1="462.4" x2="50.86" y2="462.4" stroke="#000" stroke-opacity="0.72" stroke-width="0.9"/>
<line x1="44.95" y1="463.7" x2="50.86" y2="463.7" stroke="#000" stroke-opacity="0.72" stroke-width="0.9"/>
<line x1="44.95" y1="465.1" x2="50.86" y2="465.1" stroke="#000" stroke-opacity="0.72" stroke-width="0.9"/>
<line x1="44.95" y1="470.5" x2="50.86" y2="470.5" stroke="#000" stroke-opacity="0.72" stroke-width="0.9"/>
<line x1="44.95" y1="474.7" x2="50.86" y2="474.7" stroke="#000" stroke-opacity="0.5" stroke-width="0.9"/>
<line x1="44.95" y1="483.6" x2="50.86" y2="483.6" stroke="#000" stroke-opacity="0.5" stroke-width="0.9"/>
<line x1="44.95" y1="493.4" x2="50.86" y2="493.4" stroke="#000" stroke-opacity="0.4" stroke-width="0.9"/>
<line x1="75" y1="530.77" x2="75" y2="526.45" stroke="#000" stroke-opacity="0.72" stroke-width="0.9"/>
<line x1="78.5" y1="530.77" x2="78.5" y2="526.45" stroke="#000" stroke-opacity="0.72" stroke-width="0.9"/>
<line x1="99.5" y1="530.77" x2="99.5" y2="526.45" stroke="#000" stroke-opacity="0.72" stroke-width="0.9"/>
<line x1="104.5" y1="530.77" x2="104.5" y2="526.45" stroke="#000" stroke-opacity="0.5" stroke-width="0.9"/>
<line x1="106" y1="530.77" x2="106" y2="526.45" stroke="#000" stroke-opacity="0.5" stroke-width="0.9"/>
<line x1="107.5" y1="530.77" x2="107.5" y2="526.45" stroke="#000" stroke-opacity="0.5" stroke-width="0.9"/>
<line x1="114" y1="530.77" x2="114" y2="526.45" stroke="#000" stroke-opacity="0.72" stroke-width="0.9"/>
<line x1="114.5" y1="530.77" x2="114.5" y2="526.45" stroke="#000" stroke-opacity="0.5" stroke-width="0.9"/>
<line x1="119" y1="530.77" x2="119" y2="526.45" stroke="#000" stroke-opacity="0.5" stroke-width="0.9"/>
<line x1="121.5" y1="530.77" x2="121.5" y2="526.45" stroke="#000" stroke-opacity="0.3" stroke-width="0.9"/>
<line x1="125.5" y1="530.77" x2="125.5" y2="526.45" stroke="#000" stroke-opacity="0.72" stroke-width="0.9"/>
<line x1="126.5" y1="530.77" x2="126.5" y2="526.45" stroke="#000" stroke-opacity="0.72" stroke-width="0.9"/>
<line x1="132.5" y1="530.77" x2="132.5" y2="526.45" stroke="#000" stroke-opacity="0.72" stroke-width="0.9"/>
<line x1="137.5" y1="530.77" x2="137.5" y2="526.45" stroke="#000" stroke-opacity="0.5" stroke-width="0.9"/>
<line x1="138.5" y1="530.77" x2="138.5" y2="526.45" stroke="#000" stroke-opacity="0.5" stroke-width="0.9"/>
<line x1="139.5" y1="530.77" x2="139.5" y2="526.45" stroke="#000" stroke-opacity="0.5" stroke-width="0.9"/>
<line x1="143.5" y1="530.77" x2="143.5" y2="526.45" stroke="#000" stroke-opacity="0.3" stroke-width="0.9"/>
<line x1="147.5" y1="530.77" x2="147.5" y2="526.45" stroke="#000" stroke-opacity="0.5" stroke-width="0.9"/>
<line x1="151.2" y1="530.77" x2="151.2" y2="526.45" stroke="#000" stroke-opacity="0.72" stroke-width="0.9"/>
<line x1="154" y1="530.77" x2="154" y2="526.45" stroke="#000" stroke-opacity="0.3" stroke-width="0.9"/>
<line x1="159" y1="530.77" x2="159" y2="526.45" stroke="#000" stroke-opacity="0.5" stroke-width="0.9"/>
<line x1="162" y1="530.77" x2="162" y2="526.45" stroke="#000" stroke-opacity="0.5" stroke-width="0.9"/>
<line x1="163.5" y1="530.77" x2="163.5" y2="526.45" stroke="#000" stroke-opacity="0.5" stroke-width="0.9"/>
<line x1="165" y1="530.77" x2="165" y2="526.45" stroke="#000" stroke-opacity="0.5" stroke-width="0.9"/>
<line x1="167.5" y1="530.77" x2="167.5" y2="526.45" stroke="#000" stroke-opacity="0.72" stroke-width="0.9"/>
<line x1="169" y1="530.77" x2="169" y2="526.45" stroke="#000" stroke-opacity="0.72" stroke-width="0.9"/>
<line x1="170.5" y1="530.77" x2="170.5" y2="526.45" stroke="#000" stroke-opacity="0.5" stroke-width="0.9"/>
<line x1="172" y1="530.77" x2="172" y2="526.45" stroke="#000" stroke-opacity="0.5" stroke-width="0.9"/>
<line x1="173.5" y1="530.77" x2="173.5" y2="526.45" stroke="#000" stroke-opacity="0.5" stroke-width="0.9"/>
<line x1="178.5" y1="530.77" x2="178.5" y2="526.45" stroke="#000" stroke-opacity="0.72" stroke-width="0.9"/>
<line x1="181" y1="530.77" x2="181" y2="526.45" stroke="#000" stroke-opacity="0.5" stroke-width="0.9"/>
<line x1="183.5" y1="530.77" x2="183.5" y2="526.45" stroke="#000" stroke-opacity="0.5" stroke-width="0.9"/>
<line x1="185.5" y1="530.77" x2="185.5" y2="526.45" stroke="#000" stroke-opacity="0.3" stroke-width="0.9"/>
<line x1="199.5" y1="530.77" x2="199.5" y2="526.45" stroke="#000" stroke-opacity="0.5" stroke-width="0.9"/>
<line x1="213" y1="530.77" x2="213" y2="526.45" stroke="#000" stroke-opacity="0.72" stroke-width="0.9"/>
<line x1="221.5" y1="530.77" x2="221.5" y2="526.45" stroke="#000" stroke-opacity="0.5" stroke-width="0.9"/>
<line x1="53.9" y1="472.09" x2="232.83" y2="423.47" stroke="#000" stroke-width="1.3"/>
<circle cx="140.05" cy="403.44" r="1.6" fill="#000"/>
<circle cx="133.42" cy="423.57" r="1.6" fill="#000"/>
<circle cx="106.92" cy="433.64" r="1.6" fill="#000"/>
<circle cx="126.8" cy="433.64" r="1.6" fill="#000"/>
<circle cx="113.54" cy="443.7" r="1.6" fill="#000"/>
<circle cx="126.8" cy="443.7" r="1.6" fill="#000"/>
<circle cx="127.3" cy="444.3" r="1.6" fill="#000"/>
<circle cx="140.05" cy="443.7" r="1.6" fill="#000"/>
<circle cx="100.29" cy="453.77" r="1.6" fill="#000"/>
<circle cx="113.54" cy="453.77" r="1.6" fill="#000"/>
<circle cx="120.17" cy="453.77" r="1.6" fill="#000"/>
<circle cx="120.67" cy="454.37" r="1.6" fill="#000"/>
<circle cx="126.8" cy="453.77" r="1.6" fill="#000"/>
<circle cx="133.42" cy="453.77" r="1.6" fill="#000"/>
<circle cx="140.05" cy="453.77" r="1.6" fill="#000"/>
<circle cx="140.55" cy="454.37" r="1.6" fill="#000"/>
<circle cx="80.41" cy="463.83" r="1.6" fill="#000"/>
<circle cx="106.92" cy="463.83" r="1.6" fill="#000"/>
<circle cx="113.54" cy="463.83" r="1.6" fill="#000"/>
<circle cx="126.8" cy="463.83" r="1.6" fill="#000"/>
<circle cx="133.42" cy="463.83" r="1.6" fill="#000"/>
<circle cx="212.95" cy="413.5" r="1.6" fill="#000"/>
<circle cx="153.31" cy="423.57" r="1.6" fill="#000"/>
<circle cx="159.93" cy="423.57" r="1.6" fill="#000"/>
<circle cx="179.81" cy="423.57" r="1.6" fill="#000"/>
<circle cx="180.31" cy="424.17" r="1.6" fill="#000"/>
<circle cx="153.31" cy="433.64" r="1.6" fill="#000"/>
<circle cx="166.56" cy="433.64" r="1.6" fill="#000"/>
<circle cx="173.19" cy="433.64" r="1.6" fill="#000"/>
<circle cx="179.81" cy="433.64" r="1.6" fill="#000"/>
<circle cx="180.31" cy="434.24" r="1.6" fill="#000"/>
<circle cx="199.69" cy="433.64" r="1.6" fill="#000"/>
<circle cx="212.95" cy="433.64" r="1.6" fill="#000"/>
<circle cx="166.56" cy="443.7" r="1.6" fill="#000"/>
<circle cx="173.19" cy="443.7" r="1.6" fill="#000"/>
<circle cx="186.44" cy="443.7" r="1.6" fill="#000"/>
<circle cx="146.68" cy="453.77" r="1.6" fill="#000"/>
<circle cx="166.56" cy="453.77" r="1.6" fill="#000"/>
<circle cx="167.06" cy="454.37" r="1.6" fill="#000"/>
<circle cx="153.31" cy="463.83" r="1.6" fill="#000"/>
<circle cx="159.93" cy="463.83" r="1.6" fill="#000"/>
<circle cx="166.56" cy="463.83" r="1.6" fill="#000"/>
<circle cx="106.92" cy="473.9" r="1.6" fill="#000"/>
<circle cx="133.42" cy="473.9" r="1.6" fill="#000"/>
<circle cx="106.92" cy="483.97" r="1.6" fill="#000"/>
<circle cx="73.78" cy="494.03" r="1.6" fill="#000"/>
<circle cx="219.57" cy="473.9" r="1.6" fill="#000"/>
<rect x="44.95" y="387.25" width="196.82" height="143.52" fill="none" stroke="#9A9A9A" stroke-width="0.8"/>
<line x1="53.9" y1="530.77" x2="53.9" y2="531.87" stroke="#A8A8A8" stroke-width="0.6"/>
<text x="53.9" y="537.8" text-anchor="middle" class="tk">−20</text>
<line x1="87.03" y1="530.77" x2="87.03" y2="531.87" stroke="#A8A8A8" stroke-width="0.6"/>
<text x="87.03" y="537.8" text-anchor="middle" class="tk">−15</text>
<line x1="120.17" y1="530.77" x2="120.17" y2="531.87" stroke="#A8A8A8" stroke-width="0.6"/>
<text x="120.17" y="537.8" text-anchor="middle" class="tk">−10</text>
<line x1="153.31" y1="530.77" x2="153.31" y2="531.87" stroke="#A8A8A8" stroke-width="0.6"/>
<text x="153.31" y="537.8" text-anchor="middle" class="tk">−5</text>
<line x1="186.44" y1="530.77" x2="186.44" y2="531.87" stroke="#A8A8A8" stroke-width="0.6"/>
<text x="186.44" y="537.8" text-anchor="middle" class="tk">0</text>
<line x1="219.57" y1="530.77" x2="219.57" y2="531.87" stroke="#A8A8A8" stroke-width="0.6"/>
<text x="219.57" y="537.8" text-anchor="middle" class="tk">5</text>
<line x1="43.85" y1="403.44" x2="44.95" y2="403.44" stroke="#A8A8A8" stroke-width="0.6"/>
<text x="42.3" y="405.89" text-anchor="end" class="tk">2</text>
<line x1="43.85" y1="423.57" x2="44.95" y2="423.57" stroke="#A8A8A8" stroke-width="0.6"/>
<text x="42.3" y="426.02" text-anchor="end" class="tk">0</text>
<line x1="43.85" y1="443.7" x2="44.95" y2="443.7" stroke="#A8A8A8" stroke-width="0.6"/>
<text x="42.3" y="446.16" text-anchor="end" class="tk">−2</text>
<line x1="43.85" y1="463.83" x2="44.95" y2="463.83" stroke="#A8A8A8" stroke-width="0.6"/>
<text x="42.3" y="466.29" text-anchor="end" class="tk">−4</text>
<line x1="43.85" y1="483.97" x2="44.95" y2="483.97" stroke="#A8A8A8" stroke-width="0.6"/>
<text x="42.3" y="486.42" text-anchor="end" class="tk">−6</text>
<line x1="43.85" y1="504.1" x2="44.95" y2="504.1" stroke="#A8A8A8" stroke-width="0.6"/>
<text x="42.3" y="506.55" text-anchor="end" class="tk">−8</text>
<line x1="43.85" y1="524.23" x2="44.95" y2="524.23" stroke="#A8A8A8" stroke-width="0.6"/>
<text x="42.3" y="526.68" text-anchor="end" class="tk">−10</text>
<text x="44.95" y="383.1" class="tt">Correlation – tinnitus unpleasantness &amp; tinnitus distress</text>
<text x="7.1" y="389.8" class="lb">E)</text>
<text transform="translate(29.9,459.4) rotate(-90)" text-anchor="middle" class="yt">Δ Numeric Rating Scale – tinnitus unpleasantness (post–pre)</text>
<text x="143.36" y="544.6" text-anchor="middle" class="xt">Δ Mini Tinnitus Questionnaire (post–pre)</text>
<rect x="133.94" y="507.96" width="104.99" height="12.6" fill="#fff"/>
<text x="186.44" y="516.61" text-anchor="middle" class="rt">R = 0.50, p < 0.001, p.adj = 0.001</text>
</svg>
</body></html>
